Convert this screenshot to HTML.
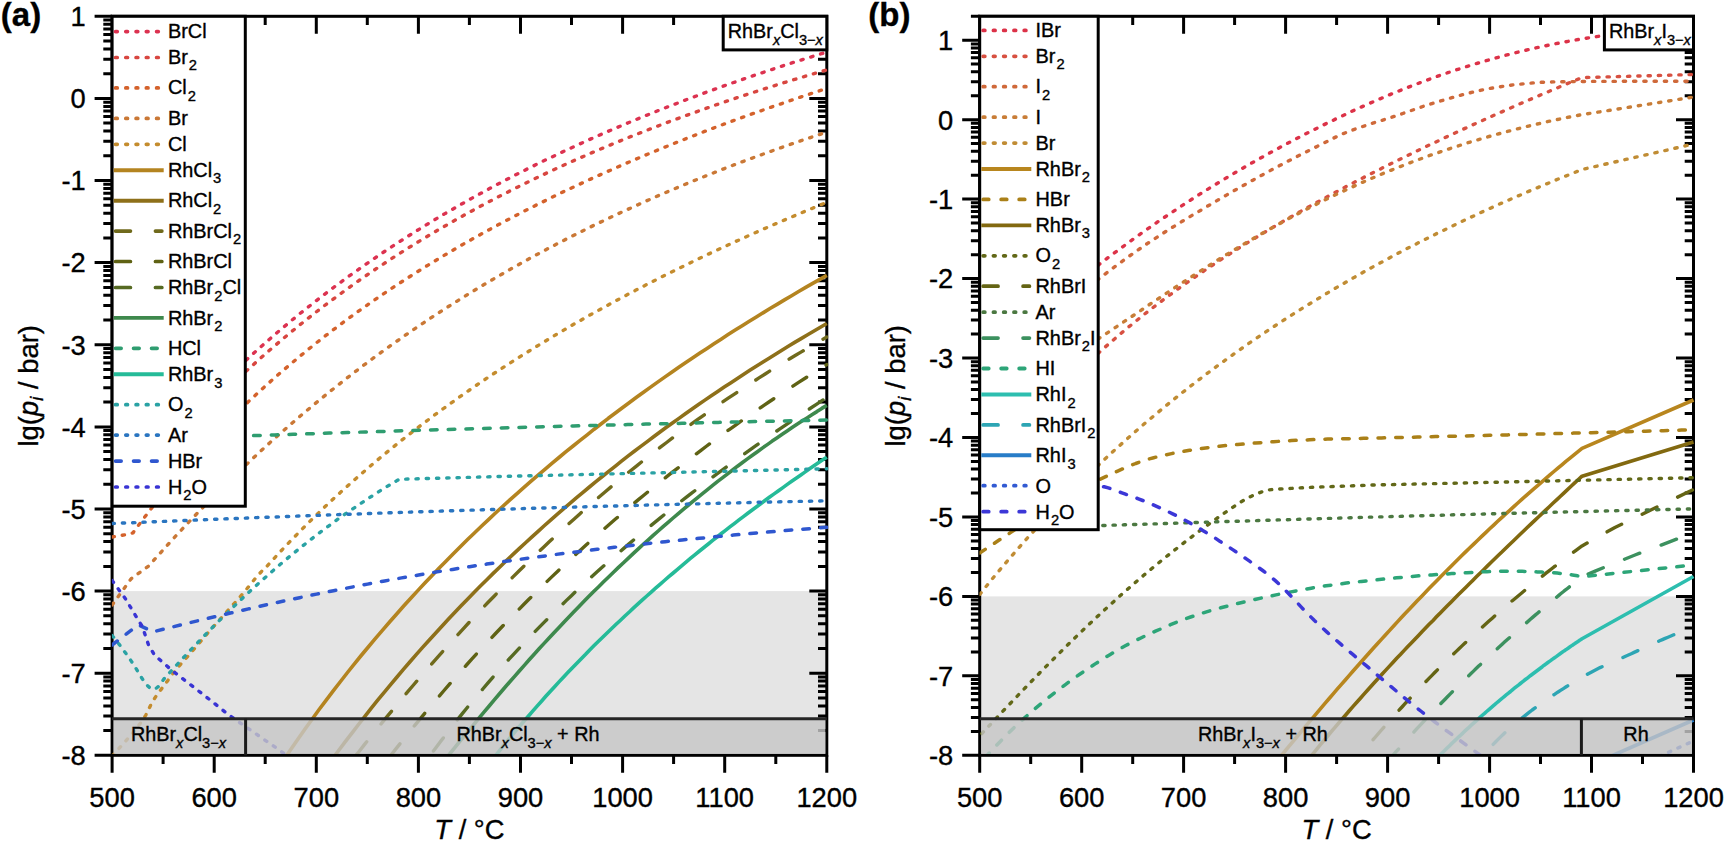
<!DOCTYPE html>
<html lang="en"><head><meta charset="utf-8"><title>Partial pressures over RhBrxCl3-x and RhBrxI3-x</title>
<style>html,body{margin:0;padding:0;background:#fff}svg{display:block}text{font-family:"Liberation Sans", Arial, Helvetica, sans-serif;fill:#000;stroke:#000;stroke-width:0.35px;paint-order:stroke}</style></head><body>
<svg width="1725" height="841" viewBox="0 0 1725 841">
<rect width="1725" height="841" fill="#fff"/>
<clipPath id="clipA"><rect x="111.89999999999999" y="17.8" width="716.4" height="736.0"/></clipPath>
<rect x="112.1" y="591.1" width="714.7" height="164.2" fill="#e5e5e5"/>
<rect x="112.1" y="16.3" width="714.7" height="739.0" fill="none" stroke="#000" stroke-width="3.0"/>
<path d="M112.1 755.3v17.5M163.1 755.3v8.8M214.2 755.3v17.5M265.2 755.3v8.8M265.2 16.3v8.8M316.3 755.3v17.5M316.3 16.3v17.5M367.3 755.3v8.8M367.3 16.3v8.8M418.4 755.3v17.5M418.4 16.3v17.5M469.4 755.3v8.8M469.4 16.3v8.8M520.5 755.3v17.5M520.5 16.3v17.5M571.5 755.3v8.8M571.5 16.3v8.8M622.6 755.3v17.5M622.6 16.3v17.5M673.6 755.3v8.8M673.6 16.3v8.8M724.7 755.3v17.5M775.8 755.3v8.8M826.8 755.3v17.5M112.1 755.3h-17.5M112.1 730.6h-8.8M826.8 730.6h-8.8M112.1 716.1h-8.8M826.8 716.1h-8.8M112.1 705.9h-8.8M826.8 705.9h-8.8M112.1 697.9h-8.8M826.8 697.9h-8.8M112.1 691.4h-8.8M826.8 691.4h-8.8M112.1 685.9h-8.8M826.8 685.9h-8.8M112.1 681.1h-8.8M826.8 681.1h-8.8M112.1 676.9h-8.8M826.8 676.9h-8.8M112.1 673.2h-17.5M826.8 673.2h-17.5M112.1 648.5h-8.8M826.8 648.5h-8.8M112.1 634.0h-8.8M826.8 634.0h-8.8M112.1 623.8h-8.8M826.8 623.8h-8.8M112.1 615.8h-8.8M826.8 615.8h-8.8M112.1 609.3h-8.8M826.8 609.3h-8.8M112.1 603.8h-8.8M826.8 603.8h-8.8M112.1 599.0h-8.8M826.8 599.0h-8.8M112.1 594.8h-8.8M826.8 594.8h-8.8M112.1 591.1h-17.5M826.8 591.1h-17.5M112.1 566.4h-8.8M826.8 566.4h-8.8M112.1 551.9h-8.8M826.8 551.9h-8.8M112.1 541.6h-8.8M826.8 541.6h-8.8M112.1 533.7h-8.8M826.8 533.7h-8.8M112.1 527.2h-8.8M826.8 527.2h-8.8M112.1 521.7h-8.8M826.8 521.7h-8.8M112.1 516.9h-8.8M826.8 516.9h-8.8M112.1 512.7h-8.8M826.8 512.7h-8.8M112.1 509.0h-17.5M826.8 509.0h-17.5M112.1 484.2h-8.8M826.8 484.2h-8.8M112.1 469.8h-8.8M826.8 469.8h-8.8M112.1 459.5h-8.8M826.8 459.5h-8.8M112.1 451.6h-8.8M826.8 451.6h-8.8M112.1 445.1h-8.8M826.8 445.1h-8.8M112.1 439.6h-8.8M826.8 439.6h-8.8M112.1 434.8h-8.8M826.8 434.8h-8.8M112.1 430.6h-8.8M826.8 430.6h-8.8M112.1 426.9h-17.5M826.8 426.9h-17.5M112.1 402.1h-8.8M826.8 402.1h-8.8M112.1 387.7h-8.8M826.8 387.7h-8.8M112.1 377.4h-8.8M826.8 377.4h-8.8M112.1 369.5h-8.8M826.8 369.5h-8.8M112.1 363.0h-8.8M826.8 363.0h-8.8M112.1 357.5h-8.8M826.8 357.5h-8.8M112.1 352.7h-8.8M826.8 352.7h-8.8M112.1 348.5h-8.8M826.8 348.5h-8.8M112.1 344.7h-17.5M826.8 344.7h-17.5M112.1 320.0h-8.8M826.8 320.0h-8.8M112.1 305.6h-8.8M826.8 305.6h-8.8M112.1 295.3h-8.8M826.8 295.3h-8.8M112.1 287.4h-8.8M826.8 287.4h-8.8M112.1 280.8h-8.8M826.8 280.8h-8.8M112.1 275.4h-8.8M826.8 275.4h-8.8M112.1 270.6h-8.8M826.8 270.6h-8.8M112.1 266.4h-8.8M826.8 266.4h-8.8M112.1 262.6h-17.5M826.8 262.6h-17.5M112.1 237.9h-8.8M826.8 237.9h-8.8M112.1 223.5h-8.8M826.8 223.5h-8.8M112.1 213.2h-8.8M826.8 213.2h-8.8M112.1 205.2h-8.8M826.8 205.2h-8.8M112.1 198.7h-8.8M826.8 198.7h-8.8M112.1 193.2h-8.8M826.8 193.2h-8.8M112.1 188.5h-8.8M826.8 188.5h-8.8M112.1 184.3h-8.8M826.8 184.3h-8.8M112.1 180.5h-17.5M826.8 180.5h-17.5M112.1 155.8h-8.8M826.8 155.8h-8.8M112.1 141.3h-8.8M826.8 141.3h-8.8M112.1 131.1h-8.8M826.8 131.1h-8.8M112.1 123.1h-8.8M826.8 123.1h-8.8M112.1 116.6h-8.8M826.8 116.6h-8.8M112.1 111.1h-8.8M826.8 111.1h-8.8M112.1 106.4h-8.8M826.8 106.4h-8.8M112.1 102.2h-8.8M826.8 102.2h-8.8M112.1 98.4h-17.5M826.8 98.4h-17.5M112.1 73.7h-8.8M826.8 73.7h-8.8M112.1 59.2h-8.8M826.8 59.2h-8.8M112.1 49.0h-8.8M112.1 41.0h-8.8M112.1 34.5h-8.8M112.1 29.0h-8.8M112.1 24.3h-8.8M112.1 20.1h-8.8M112.1 16.3h-17.5" stroke="#000" stroke-width="3.0" fill="none"/>
<g clip-path="url(#clipA)" fill="none" stroke-linejoin="round">
<path d="M246.0 360.2L253.4 353.5L260.7 346.9L268.1 340.4L275.4 334.0L282.8 327.8L290.1 321.7L297.5 315.6L304.8 309.7L312.2 303.9L319.5 298.2L326.9 292.5L334.2 287.0L341.6 281.6L348.9 276.2L356.3 271.0L363.6 265.8L371.0 260.7L378.3 255.7L385.7 250.7L393.0 245.9L400.4 241.1L407.7 236.4L415.1 231.8L422.4 227.2L429.8 222.7L437.1 218.3L444.5 213.9L451.9 209.6L459.2 205.4L466.6 201.2L473.9 197.1L481.3 193.1L488.6 189.1L496.0 185.1L503.3 181.3L510.7 177.4L518.0 173.7L525.4 169.9L532.7 166.3L540.1 162.6L547.4 159.1L554.8 155.6L562.1 152.1L569.5 148.7L576.8 145.3L584.2 141.9L591.5 138.6L598.9 135.4L606.2 132.2L613.6 129.0L620.9 125.9L628.3 122.8L635.7 119.7L643.0 116.7L650.4 113.8L657.7 110.8L665.1 107.9L672.4 105.1L679.8 102.2L687.1 99.4L694.5 96.7L701.8 93.9L709.2 91.2L716.5 88.6L723.9 85.9L731.2 83.3L738.6 80.8L745.9 78.2L753.3 75.7L760.6 73.2L768.0 70.8L775.3 68.3L782.7 65.9L790.0 63.5L797.4 61.2L804.7 58.9L812.1 56.6L819.4 54.3L826.8 52.1" stroke="#dc3250" stroke-width="3.4" stroke-linecap="round" stroke-dasharray="2.3 7.96" stroke-dashoffset="0.0"/>
<path d="M246.0 371.3L253.4 364.6L260.7 358.0L268.1 351.5L275.4 345.2L282.8 338.9L290.1 332.8L297.5 326.8L304.8 320.9L312.2 315.1L319.5 309.4L326.9 303.8L334.2 298.4L341.6 293.0L348.9 287.7L356.3 282.4L363.6 277.3L371.0 272.3L378.3 267.3L385.7 262.5L393.0 257.7L400.4 253.0L407.7 248.3L415.1 243.8L422.4 239.3L429.8 234.9L437.1 230.5L444.5 226.3L451.9 222.0L459.2 217.9L466.6 213.8L473.9 209.8L481.3 205.8L488.6 201.9L496.0 198.1L503.3 194.3L510.7 190.6L518.0 186.9L525.4 183.3L532.7 179.7L540.1 176.2L547.4 172.7L554.8 169.3L562.1 165.9L569.5 162.6L576.8 159.3L584.2 156.1L591.5 152.9L598.9 149.8L606.2 146.7L613.6 143.6L620.9 140.6L628.3 137.6L635.7 134.7L643.0 131.8L650.4 128.9L657.7 126.1L665.1 123.3L672.4 120.5L679.8 117.8L687.1 115.1L694.5 112.5L701.8 109.9L709.2 107.3L716.5 104.7L723.9 102.2L731.2 99.7L738.6 97.2L745.9 94.8L753.3 92.4L760.6 90.0L768.0 87.7L775.3 85.4L782.7 83.1L790.0 80.8L797.4 78.6L804.7 76.4L812.1 74.2L819.4 72.0L826.8 69.9" stroke="#d84640" stroke-width="3.4" stroke-linecap="round" stroke-dasharray="2.3 7.96" stroke-dashoffset="0.0"/>
<path d="M112.1 537.0L124.6 534.9L133.1 532.9L134.0 531.3L142.8 519.6L151.5 508.2L160.3 497.1L169.1 486.4L177.8 476.0L186.6 465.9L195.4 456.0L204.2 446.4L212.9 437.1L221.7 428.0L230.5 419.2L239.2 410.5L248.0 402.1L256.8 393.9L265.5 385.9L274.3 378.1L283.1 370.4L291.9 363.0L300.6 355.7L309.4 348.5L318.2 341.5L326.9 334.7L335.7 328.0L344.5 321.4L353.2 315.0L362.0 308.7L370.8 302.6L379.5 296.5L388.3 290.6L397.1 284.8L405.9 279.1L414.6 273.5L423.4 268.0L432.2 262.6L440.9 257.3L449.7 252.1L458.5 246.9L467.2 241.9L476.0 237.0L484.8 232.1L493.6 227.3L502.3 222.6L511.1 218.0L519.9 213.4L528.6 208.9L537.4 204.5L546.2 200.2L554.9 195.9L563.7 191.6L572.5 187.5L581.3 183.4L590.0 179.4L598.8 175.4L607.6 171.5L616.3 167.6L625.1 163.8L633.9 160.0L642.6 156.3L651.4 152.7L660.2 149.0L668.9 145.5L677.7 142.0L686.5 138.5L695.3 135.1L704.0 131.7L712.8 128.3L721.6 125.0L730.3 121.8L739.1 118.6L747.9 115.4L756.6 112.3L765.4 109.2L774.2 106.1L783.0 103.1L791.7 100.1L800.5 97.1L809.3 94.2L818.0 91.3L826.8 88.4" stroke="#d4622c" stroke-width="3.4" stroke-linecap="round" stroke-dasharray="2.3 7.96" stroke-dashoffset="0.0"/>
<path d="M112.1 605.0L131.2 578.7L148.2 566.3L149.0 565.7L157.6 556.0L166.2 546.5L174.7 537.1L183.3 527.9L191.9 518.8L200.5 509.9L209.1 501.1L217.6 492.4L226.2 483.9L234.8 475.5L243.4 467.3L252.0 459.2L260.5 451.2L269.1 443.4L277.7 435.7L286.3 428.1L294.9 420.7L303.4 413.4L312.0 406.2L320.6 399.1L329.2 392.1L337.8 385.3L346.3 378.6L354.9 371.9L363.5 365.4L372.1 359.0L380.7 352.7L389.2 346.6L397.8 340.5L406.4 334.5L415.0 328.6L423.6 322.8L432.1 317.1L440.7 311.5L449.3 306.0L457.9 300.6L466.5 295.2L475.0 290.0L483.6 284.8L492.2 279.8L500.8 274.8L509.3 269.8L517.9 265.0L526.5 260.2L535.1 255.5L543.7 250.9L552.2 246.4L560.8 241.9L569.4 237.5L578.0 233.2L586.6 228.9L595.1 224.7L603.7 220.6L612.3 216.5L620.9 212.5L629.5 208.6L638.0 204.7L646.6 200.8L655.2 197.1L663.8 193.3L672.4 189.7L680.9 186.1L689.5 182.5L698.1 179.0L706.7 175.6L715.3 172.2L723.8 168.8L732.4 165.5L741.0 162.2L749.6 159.0L758.2 155.9L766.7 152.8L775.3 149.7L783.9 146.6L792.5 143.7L801.1 140.7L809.6 137.8L818.2 134.9L826.8 132.1" stroke="#ca7836" stroke-width="3.4" stroke-linecap="round" stroke-dasharray="2.3 7.96" stroke-dashoffset="0.0"/>
<path d="M112.1 756.0L114.7 753.1L117.3 750.4L119.9 747.4L122.5 744.5L125.1 741.7L127.6 738.8L130.2 735.9L132.8 732.8L135.4 729.7L138.0 726.4L140.6 722.9L143.2 719.1L145.8 715.1L148.4 709.9L151.0 704.4L153.6 699.9L156.2 696.0L158.7 692.5L161.3 689.1L163.9 685.8L166.5 682.3L169.1 678.7L171.7 675.2L174.3 671.8L176.9 668.6L179.5 665.6L182.1 662.6L184.7 659.7L187.3 656.9L189.8 654.0L192.4 651.0L195.0 648.0L197.6 645.0L200.2 641.9L202.8 638.9L205.4 635.8L208.0 632.8L210.6 629.9L213.2 626.9L215.8 624.0L218.4 621.2L220.9 618.3L223.5 615.4L226.1 612.5L228.7 609.6L231.3 606.7L233.9 603.8L236.5 600.9L239.1 597.9L241.7 595.0L244.3 591.9L246.9 588.8L249.5 585.6L252.0 582.5L254.6 579.3L257.2 576.3L259.8 573.3L262.4 570.5L265.0 567.6L266.0 567.3L273.1 559.5L280.2 551.8L287.3 544.3L294.4 537.0L301.5 529.7L308.6 522.6L315.7 515.7L322.8 508.8L329.9 502.1L337.0 495.5L344.1 489.1L351.2 482.7L358.3 476.4L365.4 470.3L372.5 464.2L379.6 458.2L386.7 452.4L393.8 446.6L400.9 440.9L408.0 435.3L415.1 429.8L422.2 424.3L429.3 419.0L436.4 413.7L443.5 408.5L450.6 403.4L457.7 398.3L464.8 393.3L471.9 388.4L479.0 383.5L486.1 378.7L493.2 374.0L500.3 369.4L507.4 364.7L514.5 360.2L521.6 355.7L528.7 351.3L535.8 346.9L542.9 342.6L549.9 338.3L557.0 334.0L564.1 329.9L571.2 325.7L578.3 321.7L585.4 317.6L592.5 313.6L599.6 309.7L606.7 305.8L613.8 301.9L620.9 298.1L628.0 294.3L635.1 290.6L642.2 286.9L649.3 283.2L656.4 279.6L663.5 276.0L670.6 272.5L677.7 269.0L684.8 265.5L691.9 262.0L699.0 258.6L706.1 255.2L713.2 251.9L720.3 248.6L727.4 245.3L734.5 242.0L741.6 238.8L748.7 235.6L755.8 232.5L762.9 229.3L770.0 226.2L777.1 223.2L784.2 220.1L791.3 217.1L798.4 214.1L805.5 211.1L812.6 208.2L819.7 205.2L826.8 202.3" stroke="#c48c2e" stroke-width="3.4" stroke-linecap="round" stroke-dasharray="2.3 7.96" stroke-dashoffset="0.0"/>
<path d="M270.0 780.5L277.0 769.8L284.1 759.2L291.1 748.9L298.2 738.7L305.2 728.7L312.3 719.0L319.3 709.3L326.4 699.9L333.4 690.6L340.5 681.5L347.5 672.5L354.6 663.7L361.6 655.0L368.7 646.5L375.7 638.1L382.8 629.8L389.8 621.7L396.9 613.7L403.9 605.8L411.0 598.0L418.0 590.4L425.1 582.8L432.1 575.4L439.2 568.1L446.2 560.9L453.3 553.7L460.3 546.7L467.3 539.8L474.4 533.0L481.4 526.2L488.5 519.6L495.5 513.0L502.6 506.5L509.6 500.1L516.7 493.8L523.7 487.6L530.8 481.4L537.8 475.3L544.9 469.3L551.9 463.4L559.0 457.5L566.0 451.7L573.1 446.0L580.1 440.4L587.2 434.8L594.2 429.2L601.3 423.8L608.3 418.3L615.4 413.0L622.4 407.7L629.5 402.5L636.5 397.3L643.5 392.2L650.6 387.1L657.6 382.1L664.7 377.1L671.7 372.2L678.8 367.3L685.8 362.5L692.9 357.8L699.9 353.1L707.0 348.4L714.0 343.8L721.1 339.2L728.1 334.6L735.2 330.1L742.2 325.7L749.3 321.3L756.3 316.9L763.4 312.6L770.4 308.3L777.5 304.1L784.5 299.9L791.6 295.7L798.6 291.5L805.7 287.4L812.7 283.4L819.8 279.4L826.8 275.4" stroke="#b48420" stroke-width="3.6" stroke-linecap="butt"/>
<path d="M320.0 776.1L326.4 767.2L332.8 758.4L339.2 749.7L345.7 741.2L352.1 732.8L358.5 724.5L364.9 716.3L371.3 708.2L377.7 700.2L384.2 692.4L390.6 684.6L397.0 677.0L403.4 669.4L409.8 662.0L416.2 654.6L422.6 647.4L429.1 640.2L435.5 633.2L441.9 626.2L448.3 619.3L454.7 612.5L461.1 605.8L467.5 599.2L474.0 592.6L480.4 586.1L486.8 579.7L493.2 573.4L499.6 567.2L506.0 561.0L512.5 554.9L518.9 548.9L525.3 543.0L531.7 537.1L538.1 531.3L544.5 525.5L550.9 519.8L557.4 514.2L563.8 508.6L570.2 503.1L576.6 497.7L583.0 492.3L589.4 487.0L595.9 481.7L602.3 476.5L608.7 471.4L615.1 466.3L621.5 461.2L627.9 456.2L634.3 451.3L640.8 446.4L647.2 441.6L653.6 436.8L660.0 432.0L666.4 427.3L672.8 422.7L679.3 418.1L685.7 413.5L692.1 409.0L698.5 404.6L704.9 400.1L711.3 395.8L717.7 391.4L724.2 387.1L730.6 382.9L737.0 378.7L743.4 374.5L749.8 370.3L756.2 366.2L762.6 362.2L769.1 358.2L775.5 354.2L781.9 350.2L788.3 346.3L794.7 342.4L801.1 338.6L807.6 334.8L814.0 331.0L820.4 327.3L826.8 323.5" stroke="#8e701a" stroke-width="3.6" stroke-linecap="butt"/>
<path d="M340.0 775.9L346.2 767.9L352.3 760.0L358.5 752.2L364.6 744.4L370.8 736.7L377.0 729.0L383.1 721.4L389.3 713.9L395.5 706.4L401.6 699.0L407.8 691.7L413.9 684.5L420.1 677.3L426.3 670.1L432.4 663.1L438.6 656.1L444.8 649.2L450.9 642.3L457.1 635.5L463.2 628.8L469.4 622.1L475.6 615.5L481.7 609.0L487.9 602.5L494.1 596.2L500.2 589.8L506.4 583.6L512.5 577.4L518.7 571.2L524.9 565.2L531.0 559.2L537.2 553.2L543.3 547.4L549.5 541.6L555.7 535.8L561.8 530.1L568.0 524.5L574.2 518.9L580.3 513.4L586.5 508.0L592.6 502.6L598.8 497.3L605.0 492.0L611.1 486.8L617.3 481.7L623.5 476.6L629.6 471.5L635.8 466.6L641.9 461.6L648.1 456.8L654.3 452.0L660.4 447.2L666.6 442.5L672.7 437.8L678.9 433.2L685.1 428.7L691.2 424.2L697.4 419.7L703.6 415.3L709.7 411.0L715.9 406.7L722.0 402.4L728.2 398.2L734.4 394.1L740.5 390.0L746.7 385.9L752.9 381.9L759.0 377.9L765.2 374.0L771.3 370.1L777.5 366.3L783.7 362.5L789.8 358.7L796.0 355.0L802.2 351.4L808.3 347.7L814.5 344.1L820.6 340.6L826.8 337.1" stroke="#706a1c" stroke-width="3.4" stroke-linecap="round" stroke-dasharray="16.4 22.9" stroke-dashoffset="12.4"/>
<path d="M375.0 775.8L380.7 768.3L386.4 760.9L392.2 753.6L397.9 746.4L403.6 739.2L409.3 732.1L415.0 725.1L420.8 718.1L426.5 711.2L432.2 704.4L437.9 697.7L443.6 691.0L449.3 684.4L455.1 677.9L460.8 671.4L466.5 665.0L472.2 658.7L477.9 652.4L483.7 646.2L489.4 640.1L495.1 634.0L500.8 628.0L506.5 622.0L512.3 616.1L518.0 610.3L523.7 604.5L529.4 598.8L535.1 593.1L540.9 587.5L546.6 581.9L552.3 576.4L558.0 571.0L563.7 565.6L569.4 560.2L575.2 554.9L580.9 549.7L586.6 544.5L592.3 539.3L598.0 534.3L603.8 529.2L609.5 524.2L615.2 519.3L620.9 514.4L626.6 509.5L632.4 504.7L638.1 499.9L643.8 495.2L649.5 490.5L655.2 485.9L660.9 481.3L666.7 476.7L672.4 472.2L678.1 467.8L683.8 463.3L689.5 459.0L695.3 454.6L701.0 450.3L706.7 446.0L712.4 441.8L718.1 437.6L723.9 433.5L729.6 429.3L735.3 425.3L741.0 421.2L746.7 417.2L752.5 413.2L758.2 409.3L763.9 405.4L769.6 401.5L775.3 397.7L781.0 393.9L786.8 390.1L792.5 386.4L798.2 382.6L803.9 379.0L809.6 375.3L815.4 371.7L821.1 368.1L826.8 364.6" stroke="#5f6214" stroke-width="3.4" stroke-linecap="round" stroke-dasharray="16.4 22.9" stroke-dashoffset="15.2"/>
<path d="M415.0 776.7L420.2 769.3L425.4 762.0L430.6 754.8L435.9 747.8L441.1 740.8L446.3 734.0L451.5 727.3L456.7 720.7L461.9 714.1L467.1 707.7L472.3 701.4L477.6 695.1L482.8 689.0L488.0 682.9L493.2 676.9L498.4 671.0L503.6 665.2L508.8 659.4L514.0 653.8L519.3 648.1L524.5 642.6L529.7 637.1L534.9 631.7L540.1 626.4L545.3 621.1L550.5 615.9L555.7 610.8L561.0 605.7L566.2 600.6L571.4 595.7L576.6 590.7L581.8 585.9L587.0 581.0L592.2 576.2L597.4 571.5L602.7 566.8L607.9 562.2L613.1 557.6L618.3 553.1L623.5 548.6L628.7 544.1L633.9 539.7L639.1 535.3L644.4 530.9L649.6 526.6L654.8 522.4L660.0 518.1L665.2 513.9L670.4 509.7L675.6 505.6L680.8 501.5L686.1 497.4L691.3 493.4L696.5 489.4L701.7 485.4L706.9 481.5L712.1 477.5L717.3 473.7L722.5 469.8L727.8 466.0L733.0 462.1L738.2 458.4L743.4 454.6L748.6 450.9L753.8 447.1L759.0 443.5L764.2 439.8L769.5 436.1L774.7 432.5L779.9 428.9L785.1 425.3L790.3 421.8L795.5 418.2L800.7 414.7L805.9 411.2L811.2 407.8L816.4 404.3L821.6 400.9L826.8 397.4" stroke="#566a22" stroke-width="3.4" stroke-linecap="round" stroke-dasharray="16.4 22.9" stroke-dashoffset="7.7"/>
<path d="M435.0 772.4L440.0 766.2L444.9 759.9L449.9 753.7L454.8 747.6L459.8 741.4L464.8 735.3L469.7 729.3L474.7 723.3L479.6 717.3L484.6 711.4L489.6 705.5L494.5 699.6L499.5 693.8L504.4 688.0L509.4 682.3L514.4 676.6L519.3 671.0L524.3 665.4L529.2 659.8L534.2 654.3L539.1 648.8L544.1 643.4L549.1 638.0L554.0 632.7L559.0 627.4L563.9 622.2L568.9 617.0L573.9 611.8L578.8 606.7L583.8 601.6L588.7 596.6L593.7 591.6L598.7 586.7L603.6 581.8L608.6 577.0L613.5 572.2L618.5 567.4L623.5 562.7L628.4 558.1L633.4 553.4L638.3 548.9L643.3 544.3L648.3 539.8L653.2 535.4L658.2 531.0L663.1 526.6L668.1 522.3L673.1 518.0L678.0 513.8L683.0 509.6L687.9 505.5L692.9 501.4L697.9 497.3L702.8 493.3L707.8 489.3L712.7 485.4L717.7 481.4L722.7 477.6L727.6 473.8L732.6 470.0L737.5 466.2L742.5 462.5L747.4 458.9L752.4 455.3L757.4 451.7L762.3 448.1L767.3 444.6L772.2 441.1L777.2 437.7L782.2 434.3L787.1 431.0L792.1 427.6L797.0 424.3L802.0 421.1L807.0 417.9L811.9 414.7L816.9 411.6L821.8 408.4L826.8 405.4" stroke="#3e894d" stroke-width="3.6" stroke-linecap="butt"/>
<path d="M112.1 440.5L121.1 440.2L130.2 439.9L139.2 439.6L148.3 439.3L157.3 438.9L166.4 438.6L175.4 438.3L184.5 438.0L193.5 437.7L202.6 437.4L211.6 437.1L220.7 436.7L229.7 436.4L238.8 436.1L247.8 435.8L256.8 435.5L265.9 435.2L274.9 434.9L284.0 434.6L293.0 434.3L302.1 434.0L311.1 433.7L320.2 433.4L329.2 433.1L338.3 432.8L347.3 432.5L356.4 432.2L365.4 432.0L374.5 431.7L383.5 431.4L392.6 431.1L401.6 430.8L410.6 430.6L419.7 430.3L428.7 430.0L437.8 429.7L446.8 429.5L455.9 429.2L464.9 429.0L474.0 428.7L483.0 428.4L492.1 428.2L501.1 427.9L510.2 427.7L519.2 427.4L528.3 427.2L537.3 426.9L546.3 426.7L555.4 426.4L564.4 426.2L573.5 426.0L582.5 425.7L591.6 425.5L600.6 425.3L609.7 425.0L618.7 424.8L627.8 424.6L636.8 424.3L645.9 424.1L654.9 423.9L664.0 423.7L673.0 423.5L682.1 423.3L691.1 423.0L700.1 422.8L709.2 422.6L718.2 422.4L727.3 422.2L736.3 422.0L745.4 421.8L754.4 421.6L763.5 421.4L772.5 421.2L781.6 421.0L790.6 420.8L799.7 420.6L808.7 420.4L817.8 420.2L826.8 420.1" stroke="#2f9d70" stroke-width="3.5" stroke-linecap="round" stroke-dasharray="6.6 11.1" stroke-dashoffset="0.0"/>
<path d="M480.0 775.5L484.4 769.8L488.8 764.2L493.2 758.6L497.6 753.1L501.9 747.6L506.3 742.2L510.7 736.9L515.1 731.6L519.5 726.4L523.9 721.3L528.3 716.2L532.7 711.1L537.1 706.1L541.5 701.2L545.8 696.3L550.2 691.5L554.6 686.7L559.0 681.9L563.4 677.2L567.8 672.6L572.2 668.0L576.6 663.4L581.0 658.9L585.4 654.5L589.7 650.0L594.1 645.6L598.5 641.3L602.9 637.0L607.3 632.7L611.7 628.5L616.1 624.3L620.5 620.2L624.9 616.0L629.3 612.0L633.6 607.9L638.0 603.9L642.4 599.9L646.8 596.0L651.2 592.1L655.6 588.2L660.0 584.3L664.4 580.5L668.8 576.7L673.2 573.0L677.5 569.3L681.9 565.6L686.3 561.9L690.7 558.2L695.1 554.6L699.5 551.0L703.9 547.5L708.3 544.0L712.7 540.4L717.1 537.0L721.4 533.5L725.8 530.1L730.2 526.7L734.6 523.3L739.0 519.9L743.4 516.6L747.8 513.3L752.2 510.0L756.6 506.7L761.0 503.5L765.3 500.3L769.7 497.0L774.1 493.9L778.5 490.7L782.9 487.6L787.3 484.4L791.7 481.3L796.1 478.3L800.5 475.2L804.9 472.1L809.2 469.1L813.6 466.1L818.0 463.1L822.4 460.1L826.8 457.2" stroke="#25bb98" stroke-width="3.6" stroke-linecap="butt"/>
<path d="M112.1 635.5L113.9 637.7L115.7 639.9L117.4 642.1L119.2 644.4L121.0 646.8L122.8 649.2L124.5 651.6L126.3 654.0L128.1 656.5L129.9 659.0L131.6 661.6L133.4 664.3L135.2 667.2L137.0 670.1L138.7 673.1L140.5 676.0L142.3 678.8L144.1 681.3L145.8 683.5L147.6 685.7L149.4 687.5L151.2 688.6L152.9 689.3L154.7 689.1L156.5 688.0L158.3 686.6L160.0 684.6L161.8 682.2L163.6 679.3L164.5 678.3L167.5 675.0L170.4 671.8L173.4 668.5L176.4 665.3L179.3 662.1L182.3 658.9L185.3 655.7L188.3 652.5L191.2 649.4L194.2 646.3L197.2 643.2L200.1 640.1L203.1 637.0L206.1 633.9L209.0 630.9L212.0 627.9L215.0 624.9L218.0 621.9L220.9 619.0L223.9 616.1L226.9 613.2L229.8 610.3L232.8 607.4L235.8 604.6L238.7 601.7L241.7 598.9L244.7 596.1L247.6 593.4L250.6 590.6L253.6 587.9L256.6 585.2L259.5 582.5L262.5 579.9L265.5 577.2L268.4 574.6L271.4 572.0L274.4 569.4L277.3 566.9L280.3 564.3L283.3 561.8L286.3 559.3L289.2 556.8L292.2 554.4L295.2 552.0L298.1 549.6L301.1 547.2L304.1 544.8L307.0 542.4L310.0 540.1L313.0 537.8L316.0 535.5L318.9 533.2L321.9 531.0L324.9 528.8L327.8 526.6L330.8 524.4L333.8 522.2L336.7 520.0L339.7 517.9L342.7 515.8L345.6 513.7L348.6 511.6L351.6 509.6L354.6 507.6L357.5 505.5L360.5 503.6L363.5 501.6L366.4 499.6L369.4 497.7L372.4 495.8L375.3 493.9L378.3 492.0L381.3 490.1L384.3 488.3L387.2 486.4L390.2 484.6L393.2 482.8L396.1 481.1L399.1 479.3L500.0 476.5L826.8 468.8" stroke="#2aa2a4" stroke-width="3.4" stroke-linecap="round" stroke-dasharray="2.3 7.96" stroke-dashoffset="0.0"/>
<path d="M112.1 523.5L121.1 523.1L130.2 522.8L139.2 522.4L148.3 522.0L157.3 521.6L166.4 521.3L175.4 520.9L184.5 520.5L193.5 520.2L202.6 519.8L211.6 519.4L220.7 519.1L229.7 518.7L238.8 518.4L247.8 518.0L256.8 517.6L265.9 517.3L274.9 517.0L284.0 516.6L293.0 516.3L302.1 515.9L311.1 515.6L320.2 515.3L329.2 514.9L338.3 514.6L347.3 514.3L356.4 514.0L365.4 513.7L374.5 513.3L383.5 513.0L392.6 512.7L401.6 512.4L410.6 512.1L419.7 511.8L428.7 511.5L437.8 511.2L446.8 510.9L455.9 510.6L464.9 510.3L474.0 510.1L483.0 509.8L492.1 509.5L501.1 509.2L510.2 509.0L519.2 508.7L528.3 508.4L537.3 508.1L546.3 507.9L555.4 507.6L564.4 507.4L573.5 507.1L582.5 506.9L591.6 506.6L600.6 506.3L609.7 506.1L618.7 505.9L627.8 505.6L636.8 505.4L645.9 505.1L654.9 504.9L664.0 504.7L673.0 504.4L682.1 504.2L691.1 504.0L700.1 503.8L709.2 503.5L718.2 503.3L727.3 503.1L736.3 502.9L745.4 502.7L754.4 502.4L763.5 502.2L772.5 502.0L781.6 501.8L790.6 501.6L799.7 501.4L808.7 501.2L817.8 501.0L826.8 500.8" stroke="#2a75c0" stroke-width="3.4" stroke-linecap="round" stroke-dasharray="2.3 7.96" stroke-dashoffset="0.0"/>
<path d="M112.1 645.0L138.3 624.9L153.3 631.8L155.0 631.3L163.5 629.2L172.0 627.1L180.5 625.0L189.0 622.9L197.5 620.9L206.0 618.8L214.5 616.8L223.0 614.8L231.5 612.8L240.0 610.8L248.5 608.9L257.0 606.9L265.5 605.0L274.1 603.2L282.6 601.3L291.1 599.5L299.6 597.7L308.1 595.9L316.6 594.1L325.1 592.4L333.6 590.7L342.1 589.0L350.6 587.4L359.1 585.7L367.6 584.1L376.1 582.5L384.6 581.0L393.1 579.4L401.6 577.9L410.1 576.5L418.6 575.0L427.1 573.6L435.6 572.1L444.1 570.8L452.6 569.4L461.1 568.0L469.6 566.7L478.1 565.4L486.6 564.1L495.2 562.9L503.7 561.6L512.2 560.4L520.7 559.2L529.2 558.0L537.7 556.9L546.2 555.8L554.7 554.6L563.2 553.5L571.7 552.5L580.2 551.4L588.7 550.4L597.2 549.3L605.7 548.3L614.2 547.3L622.7 546.3L631.2 545.4L639.7 544.4L648.2 543.5L656.7 542.6L665.2 541.7L673.7 540.8L682.2 540.0L690.7 539.1L699.2 538.3L707.7 537.5L716.3 536.6L724.8 535.8L733.3 535.1L741.8 534.3L750.3 533.5L758.8 532.8L767.3 532.1L775.8 531.4L784.3 530.6L792.8 529.9L801.3 529.3L809.8 528.6L818.3 527.9L826.8 527.3" stroke="#2f57cf" stroke-width="3.5" stroke-linecap="round" stroke-dasharray="6.6 11.1" stroke-dashoffset="0.0"/>
<path d="M112.1 580.5L125.2 598.4L137.4 618.6L142.4 626.7L148.5 644.9L154.5 655.1L171.7 670.2L194.0 687.4L212.2 701.6L228.4 714.7L280.9 751.2L290.0 758.0" stroke="#3934d4" stroke-width="3.4" stroke-linecap="round" stroke-dasharray="2.3 7.96" stroke-dashoffset="0.0"/>
</g>
<rect x="113.6" y="718.7" width="711.7" height="35.1" fill="#c6c6c6" fill-opacity="0.82"/>
<path d="M112.1 718.7H826.8" stroke="#262626" stroke-width="3.1" fill="none"/>
<path d="M245.6 718.7V755.3" stroke="#1a1a1a" stroke-width="3.0" fill="none"/>
<text x="131.0" y="741.2" font-size="19.8" text-anchor="start" font-weight="normal" >RhBr<tspan dx="0" dy="6.4" font-size="74%"><tspan font-style="italic">x</tspan></tspan><tspan dy="-6.4" font-size="1%">&#8203;</tspan>Cl<tspan dx="0" dy="6.4" font-size="74%">3−<tspan font-style="italic">x</tspan></tspan><tspan dy="-6.4" font-size="1%">&#8203;</tspan></text>
<text x="456.5" y="741.2" font-size="19.8" text-anchor="start" font-weight="normal" >RhBr<tspan dx="0" dy="6.4" font-size="74%"><tspan font-style="italic">x</tspan></tspan><tspan dy="-6.4" font-size="1%">&#8203;</tspan>Cl<tspan dx="0" dy="6.4" font-size="74%">3−<tspan font-style="italic">x</tspan></tspan><tspan dy="-6.4" font-size="1%">&#8203;</tspan> + Rh</text>
<rect x="112.1" y="16.3" width="133.2" height="489.9" fill="#fff" stroke="#000" stroke-width="3.0"/>
<path d="M115.55 31.6H161.85" stroke="#dc3250" stroke-width="3.7" fill="none" stroke-dasharray="1.70 8.56" stroke-linecap="round"/>
<text x="167.9" y="37.9" font-size="19.9" text-anchor="start" font-weight="normal" >BrCl</text>
<path d="M115.55 57.5H161.85" stroke="#d84640" stroke-width="3.7" fill="none" stroke-dasharray="1.70 8.56" stroke-linecap="round"/>
<text x="167.9" y="63.9" font-size="19.9" text-anchor="start" font-weight="normal" >Br<tspan dx="1.0" dy="6.5" font-size="74%">2</tspan><tspan dy="-6.5" font-size="1%">&#8203;</tspan></text>
<path d="M115.55 87.9H161.85" stroke="#d4622c" stroke-width="3.7" fill="none" stroke-dasharray="1.70 8.56" stroke-linecap="round"/>
<text x="167.9" y="94.3" font-size="19.9" text-anchor="start" font-weight="normal" >Cl<tspan dx="1.0" dy="6.5" font-size="74%">2</tspan><tspan dy="-6.5" font-size="1%">&#8203;</tspan></text>
<path d="M115.55 118.4H161.85" stroke="#ca7836" stroke-width="3.7" fill="none" stroke-dasharray="1.70 8.56" stroke-linecap="round"/>
<text x="167.9" y="124.8" font-size="19.9" text-anchor="start" font-weight="normal" >Br</text>
<path d="M115.55 144.3H161.85" stroke="#c48c2e" stroke-width="3.7" fill="none" stroke-dasharray="1.70 8.56" stroke-linecap="round"/>
<text x="167.9" y="150.8" font-size="19.9" text-anchor="start" font-weight="normal" >Cl</text>
<path d="M113.7 170.3H163.7" stroke="#b48420" stroke-width="3.9" fill="none"/>
<text x="167.9" y="176.7" font-size="19.9" text-anchor="start" font-weight="normal" >RhCl<tspan dx="1.0" dy="6.5" font-size="74%">3</tspan><tspan dy="-6.5" font-size="1%">&#8203;</tspan></text>
<path d="M113.7 200.7H163.7" stroke="#8e701a" stroke-width="3.9" fill="none"/>
<text x="167.9" y="207.2" font-size="19.9" text-anchor="start" font-weight="normal" >RhCl<tspan dx="1.0" dy="6.5" font-size="74%">2</tspan><tspan dy="-6.5" font-size="1%">&#8203;</tspan></text>
<path d="M115.55 231.1H161.85" stroke="#706a1c" stroke-width="3.7" fill="none" stroke-dasharray="14.90 25.00" stroke-linecap="round"/>
<text x="167.9" y="237.6" font-size="19.9" text-anchor="start" font-weight="normal" >RhBrCl<tspan dx="1.0" dy="6.5" font-size="74%">2</tspan><tspan dy="-6.5" font-size="1%">&#8203;</tspan></text>
<path d="M115.55 261.5H161.85" stroke="#5f6214" stroke-width="3.7" fill="none" stroke-dasharray="14.90 25.00" stroke-linecap="round"/>
<text x="167.9" y="268.1" font-size="19.9" text-anchor="start" font-weight="normal" >RhBrCl</text>
<path d="M115.55 287.5H161.85" stroke="#566a22" stroke-width="3.7" fill="none" stroke-dasharray="14.90 25.00" stroke-linecap="round"/>
<text x="167.9" y="294.1" font-size="19.9" text-anchor="start" font-weight="normal" >RhBr<tspan dx="1.0" dy="6.5" font-size="74%">2</tspan><tspan dy="-6.5" font-size="1%">&#8203;</tspan>Cl</text>
<path d="M113.7 317.9H163.7" stroke="#3e894d" stroke-width="3.9" fill="none"/>
<text x="167.9" y="324.5" font-size="19.9" text-anchor="start" font-weight="normal" >RhBr<tspan dx="1.0" dy="6.5" font-size="74%">2</tspan><tspan dy="-6.5" font-size="1%">&#8203;</tspan></text>
<path d="M115.60 348.3H161.80" stroke="#2f9d70" stroke-width="3.8" fill="none" stroke-dasharray="5.50 12.50" stroke-linecap="round"/>
<text x="167.9" y="355.0" font-size="19.9" text-anchor="start" font-weight="normal" >HCl</text>
<path d="M113.7 374.3H163.7" stroke="#25bb98" stroke-width="3.9" fill="none"/>
<text x="167.9" y="381.0" font-size="19.9" text-anchor="start" font-weight="normal" >RhBr<tspan dx="1.0" dy="6.5" font-size="74%">3</tspan><tspan dy="-6.5" font-size="1%">&#8203;</tspan></text>
<path d="M115.55 404.7H161.85" stroke="#2aa2a4" stroke-width="3.7" fill="none" stroke-dasharray="1.70 8.56" stroke-linecap="round"/>
<text x="167.9" y="411.4" font-size="19.9" text-anchor="start" font-weight="normal" >O<tspan dx="1.0" dy="6.5" font-size="74%">2</tspan><tspan dy="-6.5" font-size="1%">&#8203;</tspan></text>
<path d="M115.55 435.1H161.85" stroke="#2a75c0" stroke-width="3.7" fill="none" stroke-dasharray="1.70 8.56" stroke-linecap="round"/>
<text x="167.9" y="441.9" font-size="19.9" text-anchor="start" font-weight="normal" >Ar</text>
<path d="M115.60 461.1H161.80" stroke="#2f57cf" stroke-width="3.8" fill="none" stroke-dasharray="5.50 12.50" stroke-linecap="round"/>
<text x="167.9" y="467.8" font-size="19.9" text-anchor="start" font-weight="normal" >HBr</text>
<path d="M115.55 487.0H161.85" stroke="#3934d4" stroke-width="3.7" fill="none" stroke-dasharray="1.70 8.56" stroke-linecap="round"/>
<text x="167.9" y="493.8" font-size="19.9" text-anchor="start" font-weight="normal" >H<tspan dx="1.0" dy="6.5" font-size="74%">2</tspan><tspan dy="-6.5" font-size="1%">&#8203;</tspan>O</text>
<rect x="723.2" y="16.3" width="103.6" height="33.6" fill="#fff" stroke="#000" stroke-width="3.0"/>
<text x="727.8" y="38.3" font-size="19.8" text-anchor="start" font-weight="normal" >RhBr<tspan dx="0" dy="6.4" font-size="74%"><tspan font-style="italic">x</tspan></tspan><tspan dy="-6.4" font-size="1%">&#8203;</tspan>Cl<tspan dx="0" dy="6.4" font-size="74%">3−<tspan font-style="italic">x</tspan></tspan><tspan dy="-6.4" font-size="1%">&#8203;</tspan></text>
<text x="112.1" y="807.3" font-size="27.3" text-anchor="middle" font-weight="normal" >500</text>
<text x="214.2" y="807.3" font-size="27.3" text-anchor="middle" font-weight="normal" >600</text>
<text x="316.3" y="807.3" font-size="27.3" text-anchor="middle" font-weight="normal" >700</text>
<text x="418.4" y="807.3" font-size="27.3" text-anchor="middle" font-weight="normal" >800</text>
<text x="520.5" y="807.3" font-size="27.3" text-anchor="middle" font-weight="normal" >900</text>
<text x="622.6" y="807.3" font-size="27.3" text-anchor="middle" font-weight="normal" >1000</text>
<text x="724.7" y="807.3" font-size="27.3" text-anchor="middle" font-weight="normal" >1100</text>
<text x="826.8" y="807.3" font-size="27.3" text-anchor="middle" font-weight="normal" >1200</text>
<text x="85.7" y="765.1" font-size="27.3" text-anchor="end" font-weight="normal" >-8</text>
<text x="85.7" y="683.0" font-size="27.3" text-anchor="end" font-weight="normal" >-7</text>
<text x="85.7" y="600.9" font-size="27.3" text-anchor="end" font-weight="normal" >-6</text>
<text x="85.7" y="518.8" font-size="27.3" text-anchor="end" font-weight="normal" >-5</text>
<text x="85.7" y="436.7" font-size="27.3" text-anchor="end" font-weight="normal" >-4</text>
<text x="85.7" y="354.5" font-size="27.3" text-anchor="end" font-weight="normal" >-3</text>
<text x="85.7" y="272.4" font-size="27.3" text-anchor="end" font-weight="normal" >-2</text>
<text x="85.7" y="190.3" font-size="27.3" text-anchor="end" font-weight="normal" >-1</text>
<text x="85.7" y="108.2" font-size="27.3" text-anchor="end" font-weight="normal" >0</text>
<text x="85.7" y="26.1" font-size="27.3" text-anchor="end" font-weight="normal" >1</text>
<text x="469.4" y="838.6" font-size="27.3" text-anchor="middle" font-weight="normal" ><tspan font-style="italic">T</tspan> / °C</text>
<text transform="translate(37.6 385.8) rotate(-90)" font-size="27.4" text-anchor="middle">lg(<tspan font-style="italic">p</tspan><tspan font-style="italic" font-size="68%" dy="5.5">i</tspan><tspan dy="-5.5"> / bar)</tspan></text>
<text x="0.8" y="26.3" font-size="33" text-anchor="start" font-weight="bold" >(a)</text>
<clipPath id="clipB"><rect x="979.5" y="17.8" width="715.5" height="736.0"/></clipPath>
<rect x="979.7" y="596.4" width="713.8" height="158.9" fill="#e5e5e5"/>
<rect x="979.7" y="16.3" width="713.8" height="739.0" fill="none" stroke="#000" stroke-width="3.0"/>
<path d="M979.7 755.3v17.5M1030.7 755.3v8.8M1081.7 755.3v17.5M1132.7 755.3v8.8M1132.7 16.3v8.8M1183.6 755.3v17.5M1183.6 16.3v17.5M1234.6 755.3v8.8M1234.6 16.3v8.8M1285.6 755.3v17.5M1285.6 16.3v17.5M1336.6 755.3v8.8M1336.6 16.3v8.8M1387.6 755.3v17.5M1387.6 16.3v17.5M1438.6 755.3v8.8M1438.6 16.3v8.8M1489.6 755.3v17.5M1489.6 16.3v17.5M1540.5 755.3v8.8M1540.5 16.3v8.8M1591.5 755.3v17.5M1591.5 16.3v17.5M1642.5 755.3v8.8M1693.5 755.3v17.5M979.7 755.3h-17.5M979.7 731.4h-8.8M1693.5 731.4h-8.8M979.7 717.4h-8.8M1693.5 717.4h-8.8M979.7 707.5h-8.8M1693.5 707.5h-8.8M979.7 699.8h-8.8M1693.5 699.8h-8.8M979.7 693.5h-8.8M1693.5 693.5h-8.8M979.7 688.2h-8.8M1693.5 688.2h-8.8M979.7 683.5h-8.8M1693.5 683.5h-8.8M979.7 679.5h-8.8M1693.5 679.5h-8.8M979.7 675.8h-17.5M1693.5 675.8h-17.5M979.7 651.9h-8.8M1693.5 651.9h-8.8M979.7 637.9h-8.8M1693.5 637.9h-8.8M979.7 628.0h-8.8M1693.5 628.0h-8.8M979.7 620.3h-8.8M1693.5 620.3h-8.8M979.7 614.0h-8.8M1693.5 614.0h-8.8M979.7 608.7h-8.8M1693.5 608.7h-8.8M979.7 604.1h-8.8M1693.5 604.1h-8.8M979.7 600.0h-8.8M1693.5 600.0h-8.8M979.7 596.4h-17.5M1693.5 596.4h-17.5M979.7 572.5h-8.8M1693.5 572.5h-8.8M979.7 558.5h-8.8M1693.5 558.5h-8.8M979.7 548.6h-8.8M1693.5 548.6h-8.8M979.7 540.9h-8.8M1693.5 540.9h-8.8M979.7 534.6h-8.8M1693.5 534.6h-8.8M979.7 529.2h-8.8M1693.5 529.2h-8.8M979.7 524.6h-8.8M1693.5 524.6h-8.8M979.7 520.6h-8.8M1693.5 520.6h-8.8M979.7 516.9h-17.5M1693.5 516.9h-17.5M979.7 493.0h-8.8M1693.5 493.0h-8.8M979.7 479.0h-8.8M1693.5 479.0h-8.8M979.7 469.1h-8.8M1693.5 469.1h-8.8M979.7 461.4h-8.8M1693.5 461.4h-8.8M979.7 455.1h-8.8M1693.5 455.1h-8.8M979.7 449.8h-8.8M1693.5 449.8h-8.8M979.7 445.2h-8.8M1693.5 445.2h-8.8M979.7 441.1h-8.8M1693.5 441.1h-8.8M979.7 437.5h-17.5M1693.5 437.5h-17.5M979.7 413.6h-8.8M1693.5 413.6h-8.8M979.7 399.6h-8.8M1693.5 399.6h-8.8M979.7 389.6h-8.8M1693.5 389.6h-8.8M979.7 382.0h-8.8M1693.5 382.0h-8.8M979.7 375.7h-8.8M1693.5 375.7h-8.8M979.7 370.3h-8.8M1693.5 370.3h-8.8M979.7 365.7h-8.8M1693.5 365.7h-8.8M979.7 361.7h-8.8M1693.5 361.7h-8.8M979.7 358.0h-17.5M1693.5 358.0h-17.5M979.7 334.1h-8.8M1693.5 334.1h-8.8M979.7 320.1h-8.8M1693.5 320.1h-8.8M979.7 310.2h-8.8M1693.5 310.2h-8.8M979.7 302.5h-8.8M1693.5 302.5h-8.8M979.7 296.2h-8.8M1693.5 296.2h-8.8M979.7 290.9h-8.8M1693.5 290.9h-8.8M979.7 286.3h-8.8M1693.5 286.3h-8.8M979.7 282.2h-8.8M1693.5 282.2h-8.8M979.7 278.6h-17.5M1693.5 278.6h-17.5M979.7 254.7h-8.8M1693.5 254.7h-8.8M979.7 240.7h-8.8M1693.5 240.7h-8.8M979.7 230.7h-8.8M1693.5 230.7h-8.8M979.7 223.0h-8.8M1693.5 223.0h-8.8M979.7 216.8h-8.8M1693.5 216.8h-8.8M979.7 211.4h-8.8M1693.5 211.4h-8.8M979.7 206.8h-8.8M1693.5 206.8h-8.8M979.7 202.8h-8.8M1693.5 202.8h-8.8M979.7 199.1h-17.5M1693.5 199.1h-17.5M979.7 175.2h-8.8M1693.5 175.2h-8.8M979.7 161.2h-8.8M1693.5 161.2h-8.8M979.7 151.3h-8.8M1693.5 151.3h-8.8M979.7 143.6h-8.8M1693.5 143.6h-8.8M979.7 137.3h-8.8M1693.5 137.3h-8.8M979.7 132.0h-8.8M1693.5 132.0h-8.8M979.7 127.4h-8.8M1693.5 127.4h-8.8M979.7 123.3h-8.8M1693.5 123.3h-8.8M979.7 119.7h-17.5M1693.5 119.7h-17.5M979.7 95.8h-8.8M1693.5 95.8h-8.8M979.7 81.8h-8.8M1693.5 81.8h-8.8M979.7 71.8h-8.8M1693.5 71.8h-8.8M979.7 64.1h-8.8M1693.5 64.1h-8.8M979.7 57.8h-8.8M1693.5 57.8h-8.8M979.7 52.5h-8.8M1693.5 52.5h-8.8M979.7 47.9h-8.8M979.7 43.9h-8.8M979.7 40.2h-17.5M979.7 16.3h-8.8" stroke="#000" stroke-width="3.0" fill="none"/>
<g clip-path="url(#clipB)" fill="none" stroke-linejoin="round">
<path d="M1098.0 265.3L1103.1 261.4L1108.1 257.6L1113.2 253.8L1118.3 250.0L1123.4 246.3L1128.4 242.6L1133.5 238.9L1138.6 235.3L1143.6 231.7L1148.7 228.1L1153.8 224.6L1158.8 221.1L1163.9 217.7L1169.0 214.3L1174.1 210.9L1179.1 207.5L1184.2 204.2L1189.3 200.9L1194.3 197.6L1199.4 194.4L1204.5 191.2L1209.6 188.1L1214.6 185.0L1219.7 181.9L1224.8 178.8L1229.8 175.8L1234.9 172.8L1240.0 169.8L1245.1 166.8L1250.1 163.9L1255.2 161.1L1260.3 158.2L1265.3 155.4L1270.4 152.6L1275.5 149.8L1280.5 147.1L1285.6 144.4L1290.7 141.7L1295.8 139.0L1300.8 136.4L1305.9 133.8L1311.0 131.2L1316.0 128.7L1321.1 126.1L1326.2 123.6L1331.3 121.2L1336.3 118.7L1341.4 116.3L1346.5 113.9L1351.5 111.5L1356.6 109.2L1361.7 106.9L1366.7 104.6L1371.8 102.4L1376.9 100.2L1382.0 98.0L1387.0 95.9L1392.1 93.7L1397.2 91.7L1402.2 89.6L1407.3 87.6L1412.4 85.6L1417.5 83.7L1422.5 81.8L1427.6 79.9L1432.7 78.0L1437.7 76.2L1442.8 74.4L1447.9 72.7L1452.9 71.0L1458.0 69.3L1463.1 67.7L1468.2 66.1L1473.2 64.5L1478.3 63.0L1483.4 61.5L1488.4 60.0L1493.5 58.6L1498.6 57.2L1503.7 55.8L1508.7 54.5L1513.8 53.2L1518.9 51.9L1523.9 50.7L1529.0 49.5L1534.1 48.3L1539.2 47.2L1544.2 46.1L1549.3 45.0L1554.4 44.0L1559.4 43.0L1564.5 42.0L1569.6 41.1L1574.6 40.2L1579.7 39.3L1584.8 38.5L1589.9 37.6L1594.9 36.9L1600.0 36.1L1693.5 36.0" stroke="#dc3248" stroke-width="3.4" stroke-linecap="round" stroke-dasharray="2.3 7.96" stroke-dashoffset="0.0"/>
<path d="M1098.0 353.5L1104.1 348.0L1110.3 342.6L1116.4 337.3L1122.5 332.1L1128.6 327.0L1134.8 322.0L1140.9 317.1L1147.0 312.2L1153.1 307.5L1159.3 302.8L1165.4 298.2L1171.5 293.7L1177.6 289.2L1183.8 284.8L1189.9 280.5L1196.0 276.3L1202.2 272.1L1208.3 267.9L1214.4 263.9L1220.5 259.8L1226.7 255.9L1232.8 251.9L1238.9 248.0L1245.0 244.2L1251.2 240.4L1257.3 236.7L1263.4 233.0L1269.5 229.3L1275.7 225.7L1281.8 222.1L1287.9 218.6L1294.1 215.1L1300.2 211.6L1306.3 208.2L1312.4 204.8L1318.6 201.4L1324.7 198.1L1330.8 194.8L1336.9 191.5L1343.1 188.2L1349.2 185.0L1355.3 181.8L1361.4 178.6L1367.6 175.5L1373.7 172.3L1379.8 169.3L1385.9 166.2L1392.1 163.1L1398.2 160.1L1404.3 157.1L1410.5 154.1L1416.6 151.1L1422.7 148.2L1428.8 145.3L1435.0 142.4L1441.1 139.5L1447.2 136.6L1453.3 133.8L1459.5 130.9L1465.6 128.1L1471.7 125.3L1477.8 122.5L1484.0 119.8L1490.1 117.0L1496.2 114.3L1502.4 111.6L1508.5 108.9L1514.6 106.2L1520.7 103.5L1526.9 100.9L1533.0 98.2L1539.1 95.6L1545.2 93.0L1551.4 90.4L1557.5 87.8L1563.6 85.2L1569.7 82.6L1575.9 80.1L1582.0 77.6L1693.5 74.5" stroke="#d75041" stroke-width="3.4" stroke-linecap="round" stroke-dasharray="2.3 7.96" stroke-dashoffset="0.0"/>
<path d="M1097.0 280.3L1102.0 276.4L1107.0 272.6L1112.0 268.8L1117.1 265.1L1122.1 261.4L1127.1 257.7L1132.1 254.2L1137.1 250.6L1142.1 247.2L1147.1 243.7L1152.1 240.4L1157.2 237.1L1162.2 233.8L1167.2 230.6L1172.2 227.5L1177.2 224.4L1182.2 221.3L1187.2 218.3L1192.2 215.3L1197.3 212.3L1202.3 209.3L1207.3 206.3L1212.3 203.4L1217.3 200.4L1222.3 197.5L1227.3 194.6L1232.3 191.7L1237.4 188.8L1242.4 186.0L1247.4 183.2L1252.4 180.4L1257.4 177.6L1262.4 174.9L1267.4 172.1L1272.4 169.4L1277.5 166.8L1282.5 164.1L1287.5 161.5L1292.5 158.9L1297.5 156.3L1302.5 153.7L1307.5 151.2L1312.5 148.7L1317.6 146.2L1322.6 143.7L1327.6 141.2L1332.6 138.6L1337.6 136.2L1342.6 133.9L1347.6 131.9L1352.6 130.0L1357.7 128.2L1362.7 126.5L1367.7 124.9L1372.7 123.2L1377.7 121.6L1382.7 120.1L1387.7 118.5L1392.7 116.9L1397.8 115.2L1402.8 113.5L1407.8 111.7L1412.8 110.0L1417.8 108.3L1422.8 106.5L1427.8 104.9L1432.8 103.3L1437.9 101.8L1442.9 100.3L1447.9 98.8L1452.9 97.4L1457.9 96.0L1462.9 94.6L1467.9 93.3L1472.9 92.1L1478.0 90.9L1483.0 89.8L1488.0 88.8L1493.0 87.9L1498.0 87.1L1503.0 86.3L1508.0 85.6L1513.0 84.9L1518.1 84.4L1523.1 83.9L1528.1 83.4L1533.1 82.9L1538.1 82.5L1543.1 82.2L1548.1 82.0L1553.1 81.9L1558.2 81.8L1563.2 81.7L1568.2 81.6L1573.2 81.6L1578.2 81.5L1583.2 81.5L1588.2 81.5L1593.2 81.4L1598.3 81.4L1603.3 81.4L1608.3 81.4L1613.3 81.4L1618.3 81.3L1623.3 81.3L1628.3 81.3L1633.3 81.3L1638.4 81.3L1643.4 81.3L1648.4 81.3L1653.4 81.2L1658.4 81.2L1663.4 81.2L1668.4 81.2L1673.4 81.2L1678.5 81.2L1683.5 81.2L1688.5 81.2L1693.5 81.2" stroke="#cf693a" stroke-width="3.4" stroke-linecap="round" stroke-dasharray="2.3 7.96" stroke-dashoffset="0.0"/>
<path d="M1098.0 339.0L1104.1 335.0L1110.3 330.9L1116.4 326.8L1122.5 322.7L1128.6 318.6L1134.8 314.5L1140.9 310.4L1147.0 306.2L1153.1 302.1L1159.3 298.0L1165.4 293.9L1171.5 289.9L1177.6 285.8L1183.8 281.8L1189.9 277.8L1196.0 273.9L1202.2 269.9L1208.3 266.0L1214.4 262.2L1220.5 258.3L1226.7 254.5L1232.8 250.8L1238.9 247.1L1245.0 243.4L1251.2 239.8L1257.3 236.2L1263.4 232.7L1269.5 229.2L1275.7 225.8L1281.8 222.4L1287.9 219.0L1294.1 215.8L1300.2 212.5L1306.3 209.3L1312.4 206.2L1318.6 203.1L1324.7 200.0L1330.8 197.0L1336.9 194.1L1343.1 191.2L1349.2 188.4L1355.3 185.6L1361.4 182.8L1367.6 180.1L1373.7 177.5L1379.8 174.9L1385.9 172.3L1392.1 169.8L1398.2 167.4L1404.3 165.0L1410.5 162.6L1416.6 160.3L1422.7 158.1L1428.8 155.8L1435.0 153.7L1441.1 151.6L1447.2 149.5L1453.3 147.5L1459.5 145.5L1465.6 143.5L1471.7 141.6L1477.8 139.8L1484.0 138.0L1490.1 136.2L1496.2 134.5L1502.4 132.8L1508.5 131.2L1514.6 129.6L1520.7 128.0L1526.9 126.5L1533.0 125.0L1539.1 123.6L1545.2 122.2L1551.4 120.8L1557.5 119.5L1563.6 118.2L1569.7 117.0L1575.9 115.8L1582.0 114.6L1610.0 110.3L1693.5 97.0" stroke="#c87d37" stroke-width="3.4" stroke-linecap="round" stroke-dasharray="2.3 7.96" stroke-dashoffset="0.0"/>
<path d="M979.7 594.5L987.3 585.0L994.9 575.7L1002.6 566.6L1010.2 557.6L1017.8 548.9L1025.4 540.2L1033.1 531.8L1040.7 523.5L1048.3 515.3L1055.9 507.3L1063.6 499.4L1071.2 491.7L1078.8 484.1L1086.4 476.6L1094.1 469.3L1101.7 462.0L1109.3 454.9L1116.9 448.0L1124.6 441.1L1132.2 434.4L1139.8 427.7L1147.4 421.2L1155.1 414.8L1162.7 408.4L1170.3 402.2L1177.9 396.1L1185.5 390.1L1193.2 384.1L1200.8 378.3L1208.4 372.5L1216.0 366.9L1223.7 361.3L1231.3 355.8L1238.9 350.4L1246.5 345.0L1254.2 339.8L1261.8 334.6L1269.4 329.5L1277.0 324.5L1284.7 319.5L1292.3 314.6L1299.9 309.8L1307.5 305.1L1315.2 300.4L1322.8 295.8L1330.4 291.2L1338.0 286.7L1345.7 282.3L1353.3 277.9L1360.9 273.6L1368.5 269.3L1376.2 265.1L1383.8 261.0L1391.4 256.9L1399.0 252.8L1406.6 248.8L1414.3 244.9L1421.9 241.0L1429.5 237.2L1437.1 233.4L1444.8 229.7L1452.4 226.0L1460.0 222.3L1467.6 218.7L1475.3 215.2L1482.9 211.6L1490.5 208.2L1498.1 204.7L1505.8 201.3L1513.4 198.0L1521.0 194.7L1528.6 191.4L1536.3 188.2L1543.9 185.0L1551.5 181.8L1559.1 178.7L1566.8 175.6L1574.4 172.6L1582.0 169.5L1693.5 144.0" stroke="#c08c34" stroke-width="3.4" stroke-linecap="round" stroke-dasharray="2.3 7.96" stroke-dashoffset="0.0"/>
<path d="M1265.0 775.4L1269.0 770.5L1273.0 765.6L1277.0 760.8L1281.1 755.9L1285.1 751.0L1289.1 746.2L1293.1 741.3L1297.1 736.5L1301.1 731.7L1305.1 726.9L1309.1 722.2L1313.2 717.4L1317.2 712.7L1321.2 707.9L1325.2 703.2L1329.2 698.5L1333.2 693.9L1337.2 689.2L1341.2 684.6L1345.3 680.0L1349.3 675.4L1353.3 670.8L1357.3 666.3L1361.3 661.7L1365.3 657.2L1369.3 652.7L1373.3 648.3L1377.4 643.8L1381.4 639.4L1385.4 635.0L1389.4 630.6L1393.4 626.3L1397.4 621.9L1401.4 617.6L1405.4 613.3L1409.5 609.1L1413.5 604.8L1417.5 600.6L1421.5 596.4L1425.5 592.3L1429.5 588.1L1433.5 584.0L1437.5 579.9L1441.6 575.8L1445.6 571.8L1449.6 567.7L1453.6 563.7L1457.6 559.8L1461.6 555.8L1465.6 551.9L1469.6 548.0L1473.7 544.1L1477.7 540.2L1481.7 536.4L1485.7 532.6L1489.7 528.8L1493.7 525.1L1497.7 521.3L1501.7 517.6L1505.8 513.9L1509.8 510.3L1513.8 506.6L1517.8 503.0L1521.8 499.4L1525.8 495.8L1529.8 492.3L1533.8 488.8L1537.9 485.3L1541.9 481.8L1545.9 478.3L1549.9 474.9L1553.9 471.5L1557.9 468.1L1561.9 464.8L1565.9 461.4L1570.0 458.1L1574.0 454.8L1578.0 451.6L1582.0 448.3L1693.5 400.0" stroke="#b8861e" stroke-width="3.6" stroke-linecap="butt"/>
<path d="M979.7 553.0L985.7 549.0L991.7 545.0L997.7 541.0L1003.7 537.0L1009.7 533.1L1015.7 529.2L1021.7 525.3L1027.7 521.3L1033.7 517.4L1039.7 513.6L1045.7 509.7L1051.7 506.0L1057.7 502.4L1063.7 498.8L1069.7 495.4L1075.7 491.9L1081.7 488.6L1087.7 485.4L1093.7 482.3L1099.7 479.4L1105.7 476.6L1111.7 473.8L1117.7 471.1L1123.7 468.4L1129.7 465.9L1135.7 463.5L1141.7 461.3L1147.7 459.3L1153.7 457.7L1159.6 456.2L1165.6 454.9L1171.6 453.6L1177.6 452.5L1183.6 451.4L1189.6 450.3L1195.6 449.4L1201.6 448.5L1207.6 447.7L1213.6 446.9L1219.6 446.2L1225.6 445.6L1231.6 445.1L1237.6 444.5L1243.6 444.0L1249.6 443.5L1255.6 443.0L1261.6 442.6L1267.6 442.1L1273.6 441.7L1279.6 441.3L1285.6 441.0L1291.6 440.6L1297.6 440.3L1303.6 440.0L1309.6 439.8L1315.6 439.5L1321.6 439.3L1327.6 439.1L1333.6 439.0L1339.6 438.8L1345.6 438.7L1351.6 438.6L1357.6 438.5L1363.6 438.3L1369.6 438.2L1375.6 438.1L1381.6 437.9L1387.6 437.8L1393.6 437.6L1399.6 437.5L1405.6 437.4L1411.6 437.2L1417.6 437.1L1423.6 436.9L1429.6 436.8L1435.6 436.6L1441.6 436.5L1447.6 436.3L1453.6 436.2L1459.6 436.0L1465.6 435.9L1471.6 435.8L1477.6 435.6L1483.6 435.5L1489.6 435.3L1495.6 435.2L1501.6 435.0L1507.6 434.9L1513.6 434.7L1519.5 434.5L1525.5 434.4L1531.5 434.2L1537.5 434.1L1543.5 433.9L1549.5 433.8L1555.5 433.6L1561.5 433.5L1567.5 433.3L1573.5 433.1L1579.5 433.0L1585.5 432.8L1591.5 432.7L1597.5 432.5L1603.5 432.3L1609.5 432.2L1615.5 432.0L1621.5 431.8L1627.5 431.7L1633.5 431.5L1639.5 431.3L1645.5 431.2L1651.5 431.0L1657.5 430.8L1663.5 430.7L1669.5 430.5L1675.5 430.3L1681.5 430.1L1687.5 430.0L1693.5 429.8" stroke="#aa8018" stroke-width="3.5" stroke-linecap="round" stroke-dasharray="6.6 11.1" stroke-dashoffset="0.0"/>
<path d="M1295.0 776.3L1298.6 771.7L1302.3 767.1L1305.9 762.6L1309.5 758.1L1313.2 753.6L1316.8 749.1L1320.4 744.7L1324.1 740.4L1327.7 736.0L1331.3 731.7L1335.0 727.4L1338.6 723.1L1342.2 718.9L1345.9 714.7L1349.5 710.5L1353.1 706.4L1356.8 702.3L1360.4 698.2L1364.0 694.1L1367.7 690.0L1371.3 686.0L1374.9 682.0L1378.6 678.0L1382.2 674.0L1385.8 670.1L1389.5 666.1L1393.1 662.2L1396.7 658.3L1400.4 654.5L1404.0 650.6L1407.6 646.8L1411.3 643.0L1414.9 639.2L1418.5 635.4L1422.2 631.6L1425.8 627.8L1429.4 624.1L1433.1 620.4L1436.7 616.6L1440.3 612.9L1443.9 609.3L1447.6 605.6L1451.2 601.9L1454.8 598.3L1458.5 594.6L1462.1 591.0L1465.7 587.4L1469.4 583.8L1473.0 580.2L1476.6 576.6L1480.3 573.0L1483.9 569.4L1487.5 565.9L1491.2 562.3L1494.8 558.8L1498.4 555.3L1502.1 551.8L1505.7 548.2L1509.3 544.7L1513.0 541.2L1516.6 537.8L1520.2 534.3L1523.9 530.8L1527.5 527.3L1531.1 523.9L1534.8 520.4L1538.4 517.0L1542.0 513.6L1545.7 510.1L1549.3 506.7L1552.9 503.3L1556.6 499.9L1560.2 496.5L1563.8 493.1L1567.5 489.7L1571.1 486.3L1574.7 482.9L1578.4 479.5L1582.0 476.2L1693.5 442.0" stroke="#826910" stroke-width="3.6" stroke-linecap="butt"/>
<path d="M967.7 748.5L971.2 744.9L974.6 741.2L978.1 737.6L981.5 733.9L985.0 730.2L988.4 726.6L991.9 722.9L995.3 719.2L998.8 715.6L1002.2 711.9L1005.7 708.3L1009.1 704.7L1012.6 701.0L1016.0 697.4L1019.5 693.8L1022.9 690.2L1026.4 686.6L1029.8 683.1L1033.3 679.5L1036.7 676.0L1040.2 672.4L1043.6 668.9L1047.1 665.4L1050.5 662.0L1054.0 658.5L1057.4 655.0L1060.9 651.6L1064.4 648.2L1067.8 644.8L1071.3 641.4L1074.7 638.1L1078.2 634.7L1081.6 631.4L1085.1 628.1L1088.5 624.8L1092.0 621.6L1095.4 618.4L1098.9 615.1L1102.3 611.9L1105.8 608.8L1109.2 605.6L1112.7 602.5L1116.1 599.4L1119.6 596.3L1123.0 593.2L1126.5 590.2L1129.9 587.2L1133.4 584.2L1136.8 581.2L1140.3 578.2L1143.7 575.3L1147.2 572.4L1150.7 569.5L1154.1 566.6L1157.6 563.8L1161.0 561.0L1164.5 558.2L1167.9 555.4L1171.4 552.6L1174.8 549.9L1178.3 547.2L1181.7 544.5L1185.2 541.8L1188.6 539.2L1192.1 536.6L1195.5 534.0L1199.0 531.4L1202.4 528.8L1205.9 526.3L1209.3 523.8L1212.8 521.3L1216.2 518.8L1219.7 516.4L1223.1 514.0L1226.6 511.6L1230.0 509.2L1233.5 506.8L1236.9 504.5L1240.4 502.2L1244.3 500.0L1248.2 497.9L1252.0 495.9L1255.9 494.1L1259.8 492.6L1263.7 491.2L1267.5 490.1L1271.4 489.6L1275.3 489.3L1279.2 489.0L1283.1 488.8L1286.9 488.6L1290.8 488.4L1294.7 488.2L1298.6 488.0L1302.5 487.8L1306.3 487.6L1310.2 487.4L1314.1 487.2L1318.0 487.1L1321.8 486.9L1325.7 486.8L1329.6 486.7L1370.0 485.1L1693.5 477.7" stroke="#626818" stroke-width="3.4" stroke-linecap="round" stroke-dasharray="2.3 7.96" stroke-dashoffset="0.0"/>
<path d="M1345.0 773.7L1348.0 770.0L1351.0 766.3L1354.0 762.6L1357.0 758.9L1360.0 755.3L1363.0 751.6L1366.0 748.1L1369.0 744.5L1372.0 741.0L1375.0 737.5L1378.0 734.0L1381.0 730.5L1384.0 727.1L1387.0 723.7L1390.0 720.3L1393.0 716.9L1396.0 713.6L1399.0 710.3L1402.0 707.0L1405.0 703.7L1408.0 700.5L1411.0 697.3L1414.0 694.1L1417.0 690.9L1420.0 687.8L1423.0 684.6L1426.0 681.5L1429.0 678.4L1432.0 675.4L1435.0 672.3L1438.0 669.3L1441.0 666.3L1444.0 663.4L1447.0 660.4L1450.0 657.5L1453.0 654.5L1456.0 651.6L1459.0 648.8L1462.0 645.9L1465.0 643.1L1468.0 640.3L1471.0 637.5L1474.0 634.7L1477.0 631.9L1480.0 629.2L1483.0 626.5L1486.0 623.8L1489.0 621.1L1492.0 618.4L1495.0 615.7L1498.0 613.1L1501.0 610.5L1504.0 607.9L1507.0 605.3L1510.0 602.7L1513.0 600.2L1516.0 597.7L1519.0 595.2L1522.0 592.7L1525.0 590.2L1528.0 587.7L1531.0 585.3L1534.0 582.8L1537.0 580.4L1540.0 578.0L1543.0 575.6L1546.0 573.2L1549.0 570.9L1552.0 568.5L1555.0 566.2L1558.0 563.9L1561.0 561.6L1564.0 559.3L1567.0 557.0L1570.0 554.8L1573.0 552.6L1576.0 550.3L1579.0 548.1L1582.0 545.9L1614.9 527.5L1650.8 510.0L1693.5 489.5" stroke="#646414" stroke-width="3.4" stroke-linecap="round" stroke-dasharray="16.4 22.9" stroke-dashoffset="34.5"/>
<path d="M979.7 529.3L988.7 529.1L997.8 528.8L1006.8 528.5L1015.8 528.3L1024.9 528.0L1033.9 527.7L1042.9 527.4L1052.0 527.2L1061.0 526.9L1070.1 526.6L1079.1 526.3L1088.1 526.0L1097.2 525.7L1106.2 525.4L1115.2 525.1L1124.3 524.8L1133.3 524.5L1142.3 524.3L1151.4 524.0L1160.4 523.7L1169.4 523.4L1178.5 523.1L1187.5 522.8L1196.6 522.5L1205.6 522.2L1214.6 521.9L1223.7 521.6L1232.7 521.4L1241.7 521.1L1250.8 520.8L1259.8 520.5L1268.8 520.2L1277.9 519.9L1286.9 519.7L1295.9 519.4L1305.0 519.1L1314.0 518.8L1323.0 518.6L1332.1 518.3L1341.1 518.0L1350.2 517.8L1359.2 517.5L1368.2 517.2L1377.3 517.0L1386.3 516.7L1395.3 516.5L1404.4 516.2L1413.4 515.9L1422.4 515.7L1431.5 515.4L1440.5 515.2L1449.5 514.9L1458.6 514.7L1467.6 514.5L1476.6 514.2L1485.7 514.0L1494.7 513.7L1503.8 513.5L1512.8 513.3L1521.8 513.0L1530.9 512.8L1539.9 512.6L1548.9 512.3L1558.0 512.1L1567.0 511.9L1576.0 511.7L1585.1 511.5L1594.1 511.2L1603.1 511.0L1612.2 510.8L1621.2 510.6L1630.3 510.4L1639.3 510.2L1648.3 510.0L1657.4 509.7L1666.4 509.5L1675.4 509.3L1684.5 509.1L1693.5 508.9" stroke="#4b7841" stroke-width="3.4" stroke-linecap="round" stroke-dasharray="2.3 7.96" stroke-dashoffset="0.0"/>
<path d="M1378.0 772.4L1380.6 769.4L1383.2 766.4L1385.7 763.4L1388.3 760.5L1390.9 757.5L1393.5 754.6L1396.1 751.7L1398.7 748.8L1401.2 745.9L1403.8 743.0L1406.4 740.2L1409.0 737.3L1411.6 734.5L1414.2 731.7L1416.7 728.9L1419.3 726.1L1421.9 723.4L1424.5 720.6L1427.1 717.9L1429.6 715.2L1432.2 712.5L1434.8 709.8L1437.4 707.1L1440.0 704.4L1442.6 701.8L1445.1 699.2L1447.7 696.5L1450.3 693.9L1452.9 691.3L1455.5 688.8L1458.1 686.2L1460.6 683.6L1463.2 681.1L1465.8 678.6L1468.4 676.1L1471.0 673.6L1473.5 671.1L1476.1 668.6L1478.7 666.1L1481.3 663.7L1483.9 661.2L1486.5 658.8L1489.0 656.4L1491.6 654.0L1494.2 651.6L1496.8 649.2L1499.4 646.8L1501.9 644.5L1504.5 642.1L1507.1 639.8L1509.7 637.5L1512.3 635.2L1514.9 632.9L1517.4 630.6L1520.0 628.3L1522.6 626.0L1525.2 623.8L1527.8 621.6L1530.4 619.3L1532.9 617.1L1535.5 614.9L1538.1 612.7L1540.7 610.5L1543.3 608.3L1545.8 606.1L1548.4 604.0L1551.0 601.8L1553.6 599.7L1556.2 597.6L1558.8 595.4L1561.3 593.3L1563.9 591.2L1566.5 589.2L1569.1 587.1L1571.7 585.0L1574.3 582.9L1576.8 580.9L1579.4 578.9L1582.0 576.8L1596.3 570.6L1635.0 555.0L1672.1 540.9L1693.5 532.5" stroke="#3c915f" stroke-width="3.4" stroke-linecap="round" stroke-dasharray="16.4 22.9" stroke-dashoffset="24.6"/>
<path d="M984.7 757.8L989.7 752.5L994.7 747.1L999.8 741.9L1004.8 736.8L1009.8 731.8L1014.8 726.9L1019.9 722.2L1024.9 717.6L1029.9 713.1L1034.9 708.8L1039.9 704.6L1045.0 700.4L1050.0 696.4L1055.0 692.4L1060.0 688.6L1065.1 684.8L1070.1 681.1L1075.1 677.5L1080.1 674.0L1085.2 670.6L1090.2 667.2L1095.2 663.9L1100.2 660.7L1105.2 657.5L1110.3 654.4L1115.3 651.4L1120.3 648.6L1125.3 645.8L1130.4 643.2L1135.4 640.7L1140.4 638.2L1145.4 635.8L1150.4 633.5L1155.5 631.2L1160.5 629.0L1165.5 626.8L1170.5 624.7L1175.6 622.7L1180.6 620.7L1185.6 618.8L1190.6 617.0L1195.7 615.3L1200.7 613.7L1205.7 612.1L1210.7 610.6L1215.7 609.2L1220.8 607.8L1225.8 606.5L1230.8 605.2L1235.8 603.9L1240.9 602.7L1245.9 601.5L1250.9 600.4L1255.9 599.2L1260.9 598.1L1266.0 597.1L1271.0 596.0L1276.0 594.9L1281.0 593.9L1286.1 592.9L1291.1 591.9L1296.1 590.9L1301.1 590.0L1306.2 589.1L1311.2 588.2L1316.2 587.4L1321.2 586.6L1326.2 585.8L1331.3 585.1L1336.3 584.4L1341.3 583.8L1346.3 583.1L1351.4 582.5L1356.4 582.0L1361.4 581.4L1366.4 580.9L1371.4 580.4L1376.5 579.8L1381.5 579.3L1386.5 578.8L1391.5 578.3L1396.6 577.8L1401.6 577.4L1406.6 576.9L1411.6 576.5L1416.7 576.0L1421.7 575.6L1426.7 575.3L1431.7 574.9L1436.7 574.6L1441.8 574.3L1446.8 574.0L1451.8 573.6L1456.8 573.3L1461.9 573.0L1466.9 572.7L1471.9 572.4L1476.9 572.2L1481.9 571.9L1487.0 571.7L1492.0 571.5L1497.0 571.4L1502.0 571.3L1507.1 571.2L1512.1 571.2L1517.1 571.2L1522.1 571.3L1527.2 571.5L1532.2 571.7L1537.2 571.9L1542.2 572.1L1547.2 572.4L1552.3 572.6L1557.3 573.1L1562.3 573.6L1567.3 574.3L1572.4 575.0L1577.4 575.8L1582.4 576.7L1693.5 565.0" stroke="#2da578" stroke-width="3.5" stroke-linecap="round" stroke-dasharray="6.6 11.1" stroke-dashoffset="0.0"/>
<path d="M1425.0 770.4L1427.0 768.4L1429.0 766.3L1431.0 764.3L1432.9 762.2L1434.9 760.2L1436.9 758.2L1438.9 756.2L1440.9 754.2L1442.9 752.2L1444.9 750.3L1446.9 748.3L1448.8 746.4L1450.8 744.4L1452.8 742.5L1454.8 740.6L1456.8 738.7L1458.8 736.8L1460.8 735.0L1462.8 733.1L1464.7 731.2L1466.7 729.4L1468.7 727.6L1470.7 725.7L1472.7 723.9L1474.7 722.1L1476.7 720.3L1478.7 718.6L1480.6 716.8L1482.6 715.0L1484.6 713.3L1486.6 711.5L1488.6 709.8L1490.6 708.1L1492.6 706.4L1494.6 704.7L1496.5 703.0L1498.5 701.3L1500.5 699.7L1502.5 698.0L1504.5 696.3L1506.5 694.7L1508.5 693.1L1510.5 691.5L1512.4 689.8L1514.4 688.2L1516.4 686.6L1518.4 685.1L1520.4 683.5L1522.4 681.9L1524.4 680.3L1526.4 678.8L1528.3 677.3L1530.3 675.7L1532.3 674.2L1534.3 672.7L1536.3 671.2L1538.3 669.7L1540.3 668.2L1542.3 666.7L1544.2 665.2L1546.2 663.8L1548.2 662.3L1550.2 660.9L1552.2 659.4L1554.2 658.0L1556.2 656.6L1558.2 655.1L1560.1 653.7L1562.1 652.3L1564.1 650.9L1566.1 649.6L1568.1 648.2L1570.1 646.8L1572.1 645.4L1574.1 644.1L1576.0 642.7L1578.0 641.4L1580.0 640.1L1582.0 638.7L1693.5 576.5" stroke="#2dbeaf" stroke-width="3.6" stroke-linecap="butt"/>
<path d="M1470.0 772.0L1472.8 768.3L1475.7 764.7L1478.5 761.2L1481.3 757.8L1484.1 754.5L1487.0 751.2L1489.8 748.0L1492.6 744.9L1495.5 742.0L1498.3 739.1L1501.1 736.4L1503.9 733.7L1506.8 731.1L1509.6 728.6L1512.4 726.1L1515.3 723.7L1518.1 721.3L1520.9 719.0L1523.8 716.7L1526.6 714.4L1529.4 712.2L1532.2 710.0L1535.1 707.9L1537.9 705.8L1540.7 703.8L1543.6 701.8L1546.4 699.8L1549.2 697.8L1552.0 695.9L1554.9 694.1L1557.7 692.2L1560.5 690.4L1563.4 688.6L1566.2 686.8L1569.0 685.0L1571.8 683.3L1574.7 681.6L1577.5 679.9L1580.3 678.2L1583.2 676.6L1586.0 675.0L1588.8 673.4L1591.7 671.9L1594.5 670.4L1597.3 669.0L1600.1 667.6L1603.0 666.3L1605.8 664.9L1608.6 663.7L1611.5 662.4L1614.3 661.2L1617.1 659.9L1619.9 658.7L1622.8 657.5L1625.6 656.2L1628.4 655.0L1631.3 653.7L1634.1 652.4L1636.9 651.1L1639.7 649.8L1642.6 648.5L1645.4 647.2L1648.2 645.9L1651.1 644.6L1653.9 643.4L1656.7 642.1L1659.6 640.8L1662.4 639.6L1665.2 638.4L1668.0 637.2L1670.9 636.0L1673.7 634.8L1676.5 633.7L1679.4 632.5L1682.2 631.4L1685.0 630.3L1687.8 629.2L1690.7 628.1L1693.5 627.0" stroke="#2da5b4" stroke-width="3.4" stroke-linecap="round" stroke-dasharray="16.4 22.9" stroke-dashoffset="3.2"/>
<path d="M1600.0 761.0L1617.2 753.5L1693.5 720.0" stroke="#287dc8" stroke-width="3.6" stroke-linecap="butt"/>
<path d="M1650.0 761.0L1665.9 753.5L1693.5 741.0" stroke="#325ad2" stroke-width="3.4" stroke-linecap="round" stroke-dasharray="2.3 7.96" stroke-dashoffset="0.0"/>
<path d="M979.7 484.5L984.0 484.5L988.3 484.4L992.6 484.4L996.9 484.4L1001.1 484.4L1005.4 484.4L1009.7 484.3L1014.0 484.3L1018.3 484.3L1022.6 484.3L1026.9 484.3L1031.2 484.3L1035.4 484.3L1039.7 484.3L1044.0 484.3L1048.3 484.3L1052.6 484.3L1056.9 484.3L1061.2 484.3L1065.5 484.3L1069.8 484.4L1074.0 484.6L1078.3 484.7L1082.6 485.0L1086.9 485.2L1091.2 485.5L1095.5 485.8L1099.8 486.2L1104.1 486.8L1108.3 487.9L1112.6 489.4L1116.9 491.0L1121.2 492.6L1125.5 494.2L1129.8 495.7L1134.1 497.2L1138.4 498.8L1142.7 500.5L1146.9 502.2L1151.2 504.0L1155.5 505.9L1159.8 507.8L1164.1 509.8L1168.4 511.8L1172.7 513.9L1177.0 516.0L1181.2 518.2L1185.5 520.5L1189.8 522.9L1194.1 525.3L1198.4 527.8L1202.7 530.4L1207.0 533.1L1211.3 535.7L1215.6 538.4L1219.8 541.2L1224.1 543.9L1228.4 546.7L1232.7 549.6L1237.0 552.5L1241.3 555.5L1245.6 558.4L1249.9 561.4L1254.1 564.4L1258.4 567.4L1262.7 570.5L1267.0 573.8L1271.3 577.2L1275.6 580.9L1279.9 584.9L1284.2 589.1L1288.5 593.5L1292.7 598.0L1297.0 602.5L1301.3 607.1L1305.6 611.6L1309.9 616.0L1314.2 620.3L1318.5 624.3L1322.8 628.3L1327.0 632.1L1331.3 635.9L1335.6 639.7L1339.9 643.4L1344.2 647.1L1348.5 650.8L1352.8 654.4L1357.1 658.0L1361.4 661.6L1365.6 665.2L1369.9 668.8L1374.2 672.5L1378.5 676.1L1382.8 679.7L1387.1 683.3L1391.4 686.9L1395.7 690.5L1399.9 694.1L1404.2 697.7L1408.5 701.2L1412.8 704.7L1417.1 708.1L1421.4 711.5L1425.7 714.9L1430.0 718.2L1434.3 721.5L1438.5 724.7L1442.8 727.9L1447.1 731.1L1451.4 734.2L1455.7 737.4L1460.0 740.5L1464.3 743.6L1468.6 746.7L1472.8 749.8L1477.1 752.9L1481.4 755.9L1485.7 759.0L1490.0 762.0" stroke="#3c37d7" stroke-width="3.5" stroke-linecap="round" stroke-dasharray="6.6 11.1" stroke-dashoffset="0.0"/>
</g>
<rect x="981.2" y="718.7" width="710.8" height="35.1" fill="#c6c6c6" fill-opacity="0.82"/>
<path d="M979.7 718.7H1693.5" stroke="#262626" stroke-width="3.1" fill="none"/>
<path d="M1581.4 718.7V755.3" stroke="#1a1a1a" stroke-width="3.0" fill="none"/>
<text x="1198.0" y="741.2" font-size="19.8" text-anchor="start" font-weight="normal" >RhBr<tspan dx="0" dy="6.4" font-size="74%"><tspan font-style="italic">x</tspan></tspan><tspan dy="-6.4" font-size="1%">&#8203;</tspan>I<tspan dx="0" dy="6.4" font-size="74%">3−<tspan font-style="italic">x</tspan></tspan><tspan dy="-6.4" font-size="1%">&#8203;</tspan> + Rh</text>
<text x="1636.0" y="741.2" font-size="19.8" text-anchor="middle" font-weight="normal" >Rh</text>
<rect x="979.7" y="16.3" width="118.5" height="513.4" fill="#fff" stroke="#000" stroke-width="3.0"/>
<path d="M983.15 30.4H1029.45" stroke="#dc3248" stroke-width="3.7" fill="none" stroke-dasharray="1.70 8.56" stroke-linecap="round"/>
<text x="1035.5" y="36.7" font-size="19.9" text-anchor="start" font-weight="normal" >IBr</text>
<path d="M983.15 56.3H1029.45" stroke="#d75041" stroke-width="3.7" fill="none" stroke-dasharray="1.70 8.56" stroke-linecap="round"/>
<text x="1035.5" y="62.7" font-size="19.9" text-anchor="start" font-weight="normal" >Br<tspan dx="1.0" dy="6.5" font-size="74%">2</tspan><tspan dy="-6.5" font-size="1%">&#8203;</tspan></text>
<path d="M983.15 86.7H1029.45" stroke="#cf693a" stroke-width="3.7" fill="none" stroke-dasharray="1.70 8.56" stroke-linecap="round"/>
<text x="1035.5" y="93.1" font-size="19.9" text-anchor="start" font-weight="normal" >I<tspan dx="1.0" dy="6.5" font-size="74%">2</tspan><tspan dy="-6.5" font-size="1%">&#8203;</tspan></text>
<path d="M983.15 117.2H1029.45" stroke="#c87d37" stroke-width="3.7" fill="none" stroke-dasharray="1.70 8.56" stroke-linecap="round"/>
<text x="1035.5" y="123.6" font-size="19.9" text-anchor="start" font-weight="normal" >I</text>
<path d="M983.15 143.1H1029.45" stroke="#c08c34" stroke-width="3.7" fill="none" stroke-dasharray="1.70 8.56" stroke-linecap="round"/>
<text x="1035.5" y="149.6" font-size="19.9" text-anchor="start" font-weight="normal" >Br</text>
<path d="M981.3 169.0H1031.3" stroke="#b8861e" stroke-width="3.9" fill="none"/>
<text x="1035.5" y="175.5" font-size="19.9" text-anchor="start" font-weight="normal" >RhBr<tspan dx="1.0" dy="6.5" font-size="74%">2</tspan><tspan dy="-6.5" font-size="1%">&#8203;</tspan></text>
<path d="M983.20 199.4H1029.40" stroke="#aa8018" stroke-width="3.8" fill="none" stroke-dasharray="5.50 12.50" stroke-linecap="round"/>
<text x="1035.5" y="206.0" font-size="19.9" text-anchor="start" font-weight="normal" >HBr</text>
<path d="M981.3 225.4H1031.3" stroke="#826910" stroke-width="3.9" fill="none"/>
<text x="1035.5" y="231.9" font-size="19.9" text-anchor="start" font-weight="normal" >RhBr<tspan dx="1.0" dy="6.5" font-size="74%">3</tspan><tspan dy="-6.5" font-size="1%">&#8203;</tspan></text>
<path d="M983.15 255.8H1029.45" stroke="#626818" stroke-width="3.7" fill="none" stroke-dasharray="1.70 8.56" stroke-linecap="round"/>
<text x="1035.5" y="262.4" font-size="19.9" text-anchor="start" font-weight="normal" >O<tspan dx="1.0" dy="6.5" font-size="74%">2</tspan><tspan dy="-6.5" font-size="1%">&#8203;</tspan></text>
<path d="M983.15 286.2H1029.45" stroke="#646414" stroke-width="3.7" fill="none" stroke-dasharray="14.90 25.00" stroke-linecap="round"/>
<text x="1035.5" y="292.9" font-size="19.9" text-anchor="start" font-weight="normal" >RhBrI</text>
<path d="M983.15 312.2H1029.45" stroke="#4b7841" stroke-width="3.7" fill="none" stroke-dasharray="1.70 8.56" stroke-linecap="round"/>
<text x="1035.5" y="318.8" font-size="19.9" text-anchor="start" font-weight="normal" >Ar</text>
<path d="M983.15 338.1H1029.45" stroke="#3c915f" stroke-width="3.7" fill="none" stroke-dasharray="14.90 25.00" stroke-linecap="round"/>
<text x="1035.5" y="344.8" font-size="19.9" text-anchor="start" font-weight="normal" >RhBr<tspan dx="1.0" dy="6.5" font-size="74%">2</tspan><tspan dy="-6.5" font-size="1%">&#8203;</tspan>I</text>
<path d="M983.20 368.5H1029.40" stroke="#2da578" stroke-width="3.8" fill="none" stroke-dasharray="5.50 12.50" stroke-linecap="round"/>
<text x="1035.5" y="375.3" font-size="19.9" text-anchor="start" font-weight="normal" >HI</text>
<path d="M981.3 394.5H1031.3" stroke="#2dbeaf" stroke-width="3.9" fill="none"/>
<text x="1035.5" y="401.2" font-size="19.9" text-anchor="start" font-weight="normal" >RhI<tspan dx="1.0" dy="6.5" font-size="74%">2</tspan><tspan dy="-6.5" font-size="1%">&#8203;</tspan></text>
<path d="M983.15 424.9H1029.45" stroke="#2da5b4" stroke-width="3.7" fill="none" stroke-dasharray="14.90 25.00" stroke-linecap="round"/>
<text x="1035.5" y="431.7" font-size="19.9" text-anchor="start" font-weight="normal" >RhBrI<tspan dx="1.0" dy="6.5" font-size="74%">2</tspan><tspan dy="-6.5" font-size="1%">&#8203;</tspan></text>
<path d="M981.3 455.3H1031.3" stroke="#287dc8" stroke-width="3.9" fill="none"/>
<text x="1035.5" y="462.1" font-size="19.9" text-anchor="start" font-weight="normal" >RhI<tspan dx="1.0" dy="6.5" font-size="74%">3</tspan><tspan dy="-6.5" font-size="1%">&#8203;</tspan></text>
<path d="M983.15 485.7H1029.45" stroke="#325ad2" stroke-width="3.7" fill="none" stroke-dasharray="1.70 8.56" stroke-linecap="round"/>
<text x="1035.5" y="492.6" font-size="19.9" text-anchor="start" font-weight="normal" >O</text>
<path d="M983.20 511.7H1029.40" stroke="#3c37d7" stroke-width="3.8" fill="none" stroke-dasharray="5.50 12.50" stroke-linecap="round"/>
<text x="1035.5" y="518.6" font-size="19.9" text-anchor="start" font-weight="normal" >H<tspan dx="1.0" dy="6.5" font-size="74%">2</tspan><tspan dy="-6.5" font-size="1%">&#8203;</tspan>O</text>
<rect x="1604.4" y="16.3" width="89.1" height="33.6" fill="#fff" stroke="#000" stroke-width="3.0"/>
<text x="1609.0" y="38.3" font-size="19.8" text-anchor="start" font-weight="normal" >RhBr<tspan dx="0" dy="6.4" font-size="74%"><tspan font-style="italic">x</tspan></tspan><tspan dy="-6.4" font-size="1%">&#8203;</tspan>I<tspan dx="0" dy="6.4" font-size="74%">3−<tspan font-style="italic">x</tspan></tspan><tspan dy="-6.4" font-size="1%">&#8203;</tspan></text>
<text x="979.7" y="807.3" font-size="27.3" text-anchor="middle" font-weight="normal" >500</text>
<text x="1081.7" y="807.3" font-size="27.3" text-anchor="middle" font-weight="normal" >600</text>
<text x="1183.6" y="807.3" font-size="27.3" text-anchor="middle" font-weight="normal" >700</text>
<text x="1285.6" y="807.3" font-size="27.3" text-anchor="middle" font-weight="normal" >800</text>
<text x="1387.6" y="807.3" font-size="27.3" text-anchor="middle" font-weight="normal" >900</text>
<text x="1489.6" y="807.3" font-size="27.3" text-anchor="middle" font-weight="normal" >1000</text>
<text x="1591.5" y="807.3" font-size="27.3" text-anchor="middle" font-weight="normal" >1100</text>
<text x="1693.5" y="807.3" font-size="27.3" text-anchor="middle" font-weight="normal" >1200</text>
<text x="953.3" y="765.1" font-size="27.3" text-anchor="end" font-weight="normal" >-8</text>
<text x="953.3" y="685.6" font-size="27.3" text-anchor="end" font-weight="normal" >-7</text>
<text x="953.3" y="606.2" font-size="27.3" text-anchor="end" font-weight="normal" >-6</text>
<text x="953.3" y="526.7" font-size="27.3" text-anchor="end" font-weight="normal" >-5</text>
<text x="953.3" y="447.3" font-size="27.3" text-anchor="end" font-weight="normal" >-4</text>
<text x="953.3" y="367.8" font-size="27.3" text-anchor="end" font-weight="normal" >-3</text>
<text x="953.3" y="288.4" font-size="27.3" text-anchor="end" font-weight="normal" >-2</text>
<text x="953.3" y="208.9" font-size="27.3" text-anchor="end" font-weight="normal" >-1</text>
<text x="953.3" y="129.5" font-size="27.3" text-anchor="end" font-weight="normal" >0</text>
<text x="953.3" y="50.0" font-size="27.3" text-anchor="end" font-weight="normal" >1</text>
<text x="1336.6" y="838.6" font-size="27.3" text-anchor="middle" font-weight="normal" ><tspan font-style="italic">T</tspan> / °C</text>
<text transform="translate(905.2 385.8) rotate(-90)" font-size="27.4" text-anchor="middle">lg(<tspan font-style="italic">p</tspan><tspan font-style="italic" font-size="68%" dy="5.5">i</tspan><tspan dy="-5.5"> / bar)</tspan></text>
<text x="868.3" y="26.3" font-size="33" text-anchor="start" font-weight="bold" >(b)</text>
</svg></body></html>
